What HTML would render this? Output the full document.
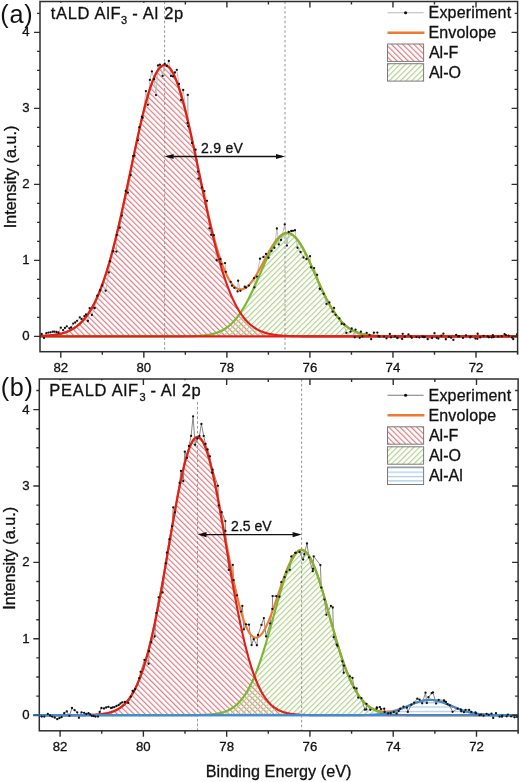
<!DOCTYPE html>
<html><head><meta charset="utf-8"><title>XPS Al 2p</title>
<style>html,body{margin:0;padding:0;background:#fff;width:520px;height:782px;overflow:hidden}svg{display:block}</style>
</head><body>
<svg width="520" height="782" viewBox="0 0 520 782" font-family="'Liberation Sans', Arial, Helvetica, sans-serif" fill="#111"><style>text{stroke:#111;stroke-width:0.3px}</style>
<defs>
<pattern id="hr" patternUnits="userSpaceOnUse" width="3.95" height="3.95" patternTransform="rotate(-45)">
  <line x1="0.6" y1="0" x2="0.6" y2="3.95" stroke="#dc7c82" stroke-width="1.2"/>
</pattern>
<pattern id="hg" patternUnits="userSpaceOnUse" width="3.95" height="3.95" patternTransform="rotate(45)">
  <line x1="0.6" y1="0" x2="0.6" y2="3.95" stroke="#b2d28c" stroke-width="1.2"/>
</pattern>
<pattern id="hb" patternUnits="userSpaceOnUse" width="10" height="4.35">
  <line x1="0" y1="2.4" x2="10" y2="2.4" stroke="#9fc3ea" stroke-width="1.1"/>
</pattern>

<clipPath id="clipa"><rect x="40" y="1.5" width="477.6" height="350.2"/></clipPath>
<clipPath id="clipb"><rect x="39.3" y="379" width="478.8" height="351.8"/></clipPath></defs>
<rect width="100%" height="100%" fill="#fff"/>
<g clip-path="url(#clipa)">
<path d="M40.04,336.04 L40.84,336 L41.63,335.97 L42.43,335.93 L43.23,335.89 L44.03,335.85 L44.82,335.8 L45.62,335.75 L46.42,335.69 L47.21,335.64 L48.01,335.57 L48.81,335.5 L49.61,335.43 L50.4,335.35 L51.2,335.27 L52,335.18 L52.79,335.08 L53.59,334.98 L54.39,334.87 L55.19,334.75 L55.98,334.62 L56.78,334.49 L57.58,334.34 L58.37,334.19 L59.17,334.02 L59.97,333.85 L60.77,333.66 L61.56,333.46 L62.36,333.25 L63.16,333.02 L63.95,332.78 L64.75,332.52 L65.55,332.25 L66.35,331.97 L67.14,331.66 L67.94,331.34 L68.74,331 L69.53,330.63 L70.33,330.25 L71.13,329.85 L71.93,329.42 L72.72,328.97 L73.52,328.49 L74.32,327.99 L75.11,327.46 L75.91,326.9 L76.71,326.31 L77.51,325.69 L78.3,325.04 L79.1,324.36 L79.9,323.65 L80.69,322.89 L81.49,322.1 L82.29,321.28 L83.08,320.41 L83.88,319.51 L84.68,318.56 L85.48,317.57 L86.27,316.54 L87.07,315.46 L87.87,314.33 L88.66,313.15 L89.46,311.93 L90.26,310.66 L91.06,309.33 L91.85,307.95 L92.65,306.52 L93.45,305.03 L94.24,303.48 L95.04,301.88 L95.84,300.22 L96.64,298.5 L97.43,296.72 L98.23,294.88 L99.03,292.98 L99.82,291.01 L100.62,288.98 L101.42,286.89 L102.22,284.73 L103.01,282.51 L103.81,280.22 L104.61,277.87 L105.4,275.45 L106.2,272.96 L107,270.42 L107.8,267.8 L108.59,265.12 L109.39,262.38 L110.19,259.57 L110.98,256.7 L111.78,253.76 L112.58,250.77 L113.38,247.71 L114.17,244.59 L114.97,241.42 L115.77,238.19 L116.56,234.9 L117.36,231.57 L118.16,228.18 L118.96,224.74 L119.75,221.25 L120.55,217.72 L121.35,214.15 L122.14,210.54 L122.94,206.89 L123.74,203.21 L124.54,199.5 L125.33,195.76 L126.13,191.99 L126.93,188.21 L127.72,184.41 L128.52,180.59 L129.32,176.77 L130.12,172.94 L130.91,169.11 L131.71,165.29 L132.51,161.47 L133.3,157.66 L134.1,153.87 L134.9,150.1 L135.7,146.35 L136.49,142.64 L137.29,138.95 L138.09,135.31 L138.88,131.71 L139.68,128.16 L140.48,124.66 L141.28,121.22 L142.07,117.84 L142.87,114.53 L143.67,111.3 L144.46,108.13 L145.26,105.05 L146.06,102.06 L146.86,99.15 L147.65,96.34 L148.45,93.62 L149.25,91.01 L150.04,88.5 L150.84,86.11 L151.64,83.83 L152.44,81.66 L153.23,79.62 L154.03,77.7 L154.83,75.9 L155.62,74.24 L156.42,72.71 L157.22,71.31 L158.02,70.05 L158.81,68.93 L159.61,67.94 L160.41,67.11 L161.2,66.41 L162,65.86 L162.8,65.46 L163.59,65.2 L164.39,65.08 L165.19,65.12 L165.99,65.3 L166.78,65.63 L167.58,66.11 L168.38,66.72 L169.17,67.49 L169.97,68.4 L170.77,69.44 L171.57,70.63 L172.36,71.96 L173.16,73.42 L173.96,75.02 L174.75,76.74 L175.55,78.6 L176.35,80.58 L177.15,82.68 L177.94,84.9 L178.74,87.24 L179.54,89.69 L180.33,92.25 L181.13,94.91 L181.93,97.67 L182.73,100.53 L183.52,103.48 L184.32,106.51 L185.12,109.64 L185.91,112.84 L186.71,116.11 L187.51,119.45 L188.31,122.86 L189.1,126.33 L189.9,129.85 L190.7,133.43 L191.49,137.05 L192.29,140.71 L193.09,144.41 L193.89,148.14 L194.68,151.9 L195.48,155.68 L196.28,159.48 L197.07,163.29 L197.87,167.12 L198.67,170.95 L199.47,174.77 L200.26,178.6 L201.06,182.42 L201.86,186.23 L202.65,190.02 L203.45,193.79 L204.25,197.55 L205.05,201.27 L205.84,204.97 L206.64,208.64 L207.44,212.27 L208.23,215.86 L209.03,219.41 L209.83,222.92 L210.63,226.39 L211.42,229.8 L212.22,233.17 L213.02,236.48 L213.81,239.74 L214.61,242.94 L215.41,246.09 L216.21,249.18 L217,252.21 L217.8,255.17 L218.6,258.08 L219.39,260.92 L220.19,263.7 L220.99,266.41 L221.79,269.06 L222.58,271.64 L223.38,274.16 L224.18,276.61 L224.97,279 L225.77,281.32 L226.57,283.58 L227.37,285.77 L228.16,287.9 L228.96,289.96 L229.76,291.96 L230.55,293.89 L231.35,295.77 L232.15,297.58 L232.95,299.33 L233.74,301.02 L234.54,302.65 L235.34,304.23 L236.13,305.75 L236.93,307.21 L237.73,308.62 L238.53,309.97 L239.32,311.27 L240.12,312.52 L240.92,313.72 L241.71,314.87 L242.51,315.98 L243.31,317.04 L244.1,318.05 L244.9,319.02 L245.7,319.95 L246.5,320.83 L247.29,321.68 L248.09,322.49 L248.89,323.26 L249.68,323.99 L250.48,324.69 L251.28,325.36 L252.08,325.99 L252.87,326.6 L253.67,327.17 L254.47,327.71 L255.26,328.23 L256.06,328.72 L256.86,329.19 L257.66,329.63 L258.45,330.04 L259.25,330.44 L260.05,330.81 L260.84,331.16 L261.64,331.49 L262.44,331.81 L263.24,332.11 L264.03,332.38 L264.83,332.65 L265.63,332.9 L266.42,333.13 L267.22,333.35 L268.02,333.55 L268.82,333.75 L269.61,333.93 L270.41,334.1 L271.21,334.26 L272,334.41 L272.8,334.55 L273.6,334.68 L274.4,334.81 L275.19,334.92 L275.99,335.03 L276.79,335.13 L277.58,335.22 L278.38,335.31 L279.18,335.39 L279.98,335.47 L280.77,335.54 L281.57,335.6 L282.37,335.66 L283.16,335.72 L283.96,335.77 L284.76,335.82 L285.56,335.87 L286.35,335.91 L287.15,335.95 L287.95,335.99 L288.74,336.02 L289.54,336.05 L290.34,336.08 L291.14,336.1 L291.93,336.13 L292.73,336.15 L293.53,336.17 L294.32,336.19 L295.12,336.21 L295.92,336.23 L296.72,336.24 L297.51,336.25 L298.31,336.27 L299.11,336.28 L299.9,336.29 L300.7,336.3 L301.5,336.31 L302.3,336.32 L303.09,336.32 L303.89,336.33 L304.69,336.34 L305.48,336.34 L306.28,336.35 L307.08,336.35 L307.88,336.36 L308.67,336.36 L309.47,336.36 L310.27,336.37 L311.06,336.37 L311.86,336.37 L312.66,336.38 L313.46,336.38 L314.25,336.38 L315.05,336.38 L315.85,336.38 L316.64,336.39 L317.44,336.39 L318.24,336.39 L319.03,336.39 L319.83,336.39 L320.63,336.39 L321.43,336.39 L322.22,336.39 L323.02,336.39 L323.82,336.39 L324.61,336.4 L325.41,336.4 L326.21,336.4 L327.01,336.4 L327.8,336.4 L328.6,336.4 L329.4,336.4 L330.19,336.4 L330.99,336.4 L331.79,336.4 L332.59,336.4 L333.38,336.4 L334.18,336.4 L334.98,336.4 L335.77,336.4 L336.57,336.4 L337.37,336.4 L338.17,336.4 L338.96,336.4 L339.76,336.4 L340.56,336.4 L341.35,336.4 L342.15,336.4 L342.95,336.4 L343.75,336.4 L344.54,336.4 L345.34,336.4 L346.14,336.4 L346.93,336.4 L347.73,336.4 L348.53,336.4 L349.33,336.4 L350.12,336.4 L350.92,336.4 L351.72,336.4 L352.51,336.4 L353.31,336.4 L354.11,336.4 L354.91,336.4 L355.7,336.4 L356.5,336.4 L357.3,336.4 L358.09,336.4 L358.89,336.4 L359.69,336.4 L360.49,336.4 L361.28,336.4 L362.08,336.4 L362.88,336.4 L363.67,336.4 L364.47,336.4 L365.27,336.4 L366.07,336.4 L366.86,336.4 L367.66,336.4 L368.46,336.4 L369.25,336.4 L370.05,336.4 L370.85,336.4 L371.65,336.4 L372.44,336.4 L373.24,336.4 L374.04,336.4 L374.83,336.4 L375.63,336.4 L376.43,336.4 L377.23,336.4 L378.02,336.4 L378.82,336.4 L379.62,336.4 L380.41,336.4 L381.21,336.4 L382.01,336.4 L382.81,336.4 L383.6,336.4 L384.4,336.4 L385.2,336.4 L385.99,336.4 L386.79,336.4 L387.59,336.4 L388.39,336.4 L389.18,336.4 L389.98,336.4 L390.78,336.4 L391.57,336.4 L392.37,336.4 L393.17,336.4 L393.97,336.4 L394.76,336.4 L395.56,336.4 L396.36,336.4 L397.15,336.4 L397.95,336.4 L398.75,336.4 L399.54,336.4 L400.34,336.4 L401.14,336.4 L401.94,336.4 L402.73,336.4 L403.53,336.4 L404.33,336.4 L405.12,336.4 L405.92,336.4 L406.72,336.4 L407.52,336.4 L408.31,336.4 L409.11,336.4 L409.91,336.4 L410.7,336.4 L411.5,336.4 L412.3,336.4 L413.1,336.4 L413.89,336.4 L414.69,336.4 L415.49,336.4 L416.28,336.4 L417.08,336.4 L417.88,336.4 L418.68,336.4 L419.47,336.4 L420.27,336.4 L421.07,336.4 L421.86,336.4 L422.66,336.4 L423.46,336.4 L424.26,336.4 L425.05,336.4 L425.85,336.4 L426.65,336.4 L427.44,336.4 L428.24,336.4 L429.04,336.4 L429.84,336.4 L430.63,336.4 L431.43,336.4 L432.23,336.4 L433.02,336.4 L433.82,336.4 L434.62,336.4 L435.42,336.4 L436.21,336.4 L437.01,336.4 L437.81,336.4 L438.6,336.4 L439.4,336.4 L440.2,336.4 L441,336.4 L441.79,336.4 L442.59,336.4 L443.39,336.4 L444.18,336.4 L444.98,336.4 L445.78,336.4 L446.58,336.4 L447.37,336.4 L448.17,336.4 L448.97,336.4 L449.76,336.4 L450.56,336.4 L451.36,336.4 L452.16,336.4 L452.95,336.4 L453.75,336.4 L454.55,336.4 L455.34,336.4 L456.14,336.4 L456.94,336.4 L457.74,336.4 L458.53,336.4 L459.33,336.4 L460.13,336.4 L460.92,336.4 L461.72,336.4 L462.52,336.4 L463.32,336.4 L464.11,336.4 L464.91,336.4 L465.71,336.4 L466.5,336.4 L467.3,336.4 L468.1,336.4 L468.9,336.4 L469.69,336.4 L470.49,336.4 L471.29,336.4 L472.08,336.4 L472.88,336.4 L473.68,336.4 L474.48,336.4 L475.27,336.4 L476.07,336.4 L476.87,336.4 L477.66,336.4 L478.46,336.4 L479.26,336.4 L480.05,336.4 L480.85,336.4 L481.65,336.4 L482.45,336.4 L483.24,336.4 L484.04,336.4 L484.84,336.4 L485.63,336.4 L486.43,336.4 L487.23,336.4 L488.03,336.4 L488.82,336.4 L489.62,336.4 L490.42,336.4 L491.21,336.4 L492.01,336.4 L492.81,336.4 L493.61,336.4 L494.4,336.4 L495.2,336.4 L496,336.4 L496.79,336.4 L497.59,336.4 L498.39,336.4 L499.19,336.4 L499.98,336.4 L500.78,336.4 L501.58,336.4 L502.37,336.4 L503.17,336.4 L503.97,336.4 L504.77,336.4 L505.56,336.4 L506.36,336.4 L507.16,336.4 L507.95,336.4 L508.75,336.4 L509.55,336.4 L510.35,336.4 L511.14,336.4 L511.94,336.4 L512.74,336.4 L513.53,336.4 L514.33,336.4 L515.13,336.4 L515.93,336.4 L516.72,336.4 L517.52,336.4 L517.52,336.4 L40.04,336.4 Z" fill="url(#hr)"/>
<path d="M40.04,336.4 L40.84,336.4 L41.63,336.4 L42.43,336.4 L43.23,336.4 L44.03,336.4 L44.82,336.4 L45.62,336.4 L46.42,336.4 L47.21,336.4 L48.01,336.4 L48.81,336.4 L49.61,336.4 L50.4,336.4 L51.2,336.4 L52,336.4 L52.79,336.4 L53.59,336.4 L54.39,336.4 L55.19,336.4 L55.98,336.4 L56.78,336.4 L57.58,336.4 L58.37,336.4 L59.17,336.4 L59.97,336.4 L60.77,336.4 L61.56,336.4 L62.36,336.4 L63.16,336.4 L63.95,336.4 L64.75,336.4 L65.55,336.4 L66.35,336.4 L67.14,336.4 L67.94,336.4 L68.74,336.4 L69.53,336.4 L70.33,336.4 L71.13,336.4 L71.93,336.4 L72.72,336.4 L73.52,336.4 L74.32,336.4 L75.11,336.4 L75.91,336.4 L76.71,336.4 L77.51,336.4 L78.3,336.4 L79.1,336.4 L79.9,336.4 L80.69,336.4 L81.49,336.4 L82.29,336.4 L83.08,336.4 L83.88,336.4 L84.68,336.4 L85.48,336.4 L86.27,336.4 L87.07,336.4 L87.87,336.4 L88.66,336.4 L89.46,336.4 L90.26,336.4 L91.06,336.4 L91.85,336.4 L92.65,336.4 L93.45,336.4 L94.24,336.4 L95.04,336.4 L95.84,336.4 L96.64,336.4 L97.43,336.4 L98.23,336.4 L99.03,336.4 L99.82,336.4 L100.62,336.4 L101.42,336.4 L102.22,336.4 L103.01,336.4 L103.81,336.4 L104.61,336.4 L105.4,336.4 L106.2,336.4 L107,336.4 L107.8,336.4 L108.59,336.4 L109.39,336.4 L110.19,336.4 L110.98,336.4 L111.78,336.4 L112.58,336.4 L113.38,336.4 L114.17,336.4 L114.97,336.4 L115.77,336.4 L116.56,336.4 L117.36,336.4 L118.16,336.4 L118.96,336.4 L119.75,336.4 L120.55,336.4 L121.35,336.4 L122.14,336.4 L122.94,336.4 L123.74,336.4 L124.54,336.4 L125.33,336.4 L126.13,336.4 L126.93,336.4 L127.72,336.4 L128.52,336.4 L129.32,336.4 L130.12,336.4 L130.91,336.4 L131.71,336.4 L132.51,336.4 L133.3,336.4 L134.1,336.4 L134.9,336.4 L135.7,336.4 L136.49,336.4 L137.29,336.4 L138.09,336.4 L138.88,336.4 L139.68,336.4 L140.48,336.4 L141.28,336.4 L142.07,336.4 L142.87,336.4 L143.67,336.4 L144.46,336.4 L145.26,336.4 L146.06,336.4 L146.86,336.4 L147.65,336.4 L148.45,336.4 L149.25,336.4 L150.04,336.4 L150.84,336.4 L151.64,336.4 L152.44,336.4 L153.23,336.4 L154.03,336.4 L154.83,336.4 L155.62,336.4 L156.42,336.4 L157.22,336.4 L158.02,336.4 L158.81,336.4 L159.61,336.4 L160.41,336.4 L161.2,336.4 L162,336.4 L162.8,336.4 L163.59,336.4 L164.39,336.4 L165.19,336.4 L165.99,336.39 L166.78,336.39 L167.58,336.39 L168.38,336.39 L169.17,336.39 L169.97,336.39 L170.77,336.39 L171.57,336.39 L172.36,336.38 L173.16,336.38 L173.96,336.38 L174.75,336.38 L175.55,336.38 L176.35,336.37 L177.15,336.37 L177.94,336.37 L178.74,336.36 L179.54,336.36 L180.33,336.35 L181.13,336.34 L181.93,336.34 L182.73,336.33 L183.52,336.32 L184.32,336.31 L185.12,336.3 L185.91,336.29 L186.71,336.28 L187.51,336.27 L188.31,336.25 L189.1,336.24 L189.9,336.22 L190.7,336.2 L191.49,336.18 L192.29,336.15 L193.09,336.13 L193.89,336.1 L194.68,336.07 L195.48,336.03 L196.28,336 L197.07,335.95 L197.87,335.91 L198.67,335.86 L199.47,335.81 L200.26,335.75 L201.06,335.69 L201.86,335.62 L202.65,335.55 L203.45,335.47 L204.25,335.38 L205.05,335.28 L205.84,335.18 L206.64,335.07 L207.44,334.96 L208.23,334.83 L209.03,334.69 L209.83,334.54 L210.63,334.38 L211.42,334.21 L212.22,334.03 L213.02,333.83 L213.81,333.62 L214.61,333.4 L215.41,333.16 L216.21,332.9 L217,332.63 L217.8,332.34 L218.6,332.03 L219.39,331.7 L220.19,331.35 L220.99,330.98 L221.79,330.58 L222.58,330.17 L223.38,329.72 L224.18,329.26 L224.97,328.76 L225.77,328.24 L226.57,327.69 L227.37,327.12 L228.16,326.51 L228.96,325.87 L229.76,325.2 L230.55,324.5 L231.35,323.76 L232.15,322.99 L232.95,322.18 L233.74,321.34 L234.54,320.47 L235.34,319.55 L236.13,318.6 L236.93,317.61 L237.73,316.58 L238.53,315.52 L239.32,314.41 L240.12,313.27 L240.92,312.08 L241.71,310.86 L242.51,309.6 L243.31,308.3 L244.1,306.96 L244.9,305.59 L245.7,304.18 L246.5,302.73 L247.29,301.25 L248.09,299.73 L248.89,298.18 L249.68,296.6 L250.48,294.99 L251.28,293.34 L252.08,291.68 L252.87,289.98 L253.67,288.26 L254.47,286.52 L255.26,284.77 L256.06,282.99 L256.86,281.2 L257.66,279.4 L258.45,277.59 L259.25,275.78 L260.05,273.96 L260.84,272.14 L261.64,270.32 L262.44,268.51 L263.24,266.71 L264.03,264.92 L264.83,263.15 L265.63,261.4 L266.42,259.67 L267.22,257.97 L268.02,256.3 L268.82,254.66 L269.61,253.05 L270.41,251.49 L271.21,249.97 L272,248.5 L272.8,247.08 L273.6,245.72 L274.4,244.41 L275.19,243.16 L275.99,241.97 L276.79,240.85 L277.58,239.8 L278.38,238.82 L279.18,237.91 L279.98,237.08 L280.77,236.33 L281.57,235.65 L282.37,235.06 L283.16,234.55 L283.96,234.12 L284.76,233.78 L285.56,233.53 L286.35,233.36 L287.15,233.28 L287.95,233.28 L288.74,233.37 L289.54,233.55 L290.34,233.82 L291.14,234.17 L291.93,234.61 L292.73,235.13 L293.53,235.73 L294.32,236.42 L295.12,237.18 L295.92,238.02 L296.72,238.94 L297.51,239.93 L298.31,240.99 L299.11,242.12 L299.9,243.31 L300.7,244.57 L301.5,245.88 L302.3,247.26 L303.09,248.68 L303.89,250.16 L304.69,251.68 L305.48,253.25 L306.28,254.86 L307.08,256.5 L307.88,258.18 L308.67,259.88 L309.47,261.62 L310.27,263.37 L311.06,265.14 L311.86,266.93 L312.66,268.74 L313.46,270.55 L314.25,272.36 L315.05,274.18 L315.85,276 L316.64,277.82 L317.44,279.63 L318.24,281.42 L319.03,283.21 L319.83,284.98 L320.63,286.74 L321.43,288.48 L322.22,290.19 L323.02,291.88 L323.82,293.55 L324.61,295.19 L325.41,296.8 L326.21,298.37 L327.01,299.92 L327.8,301.43 L328.6,302.91 L329.4,304.35 L330.19,305.76 L330.99,307.13 L331.79,308.46 L332.59,309.76 L333.38,311.01 L334.18,312.23 L334.98,313.41 L335.77,314.55 L336.57,315.65 L337.37,316.71 L338.17,317.73 L338.96,318.72 L339.76,319.67 L340.56,320.58 L341.35,321.45 L342.15,322.29 L342.95,323.09 L343.75,323.85 L344.54,324.58 L345.34,325.28 L346.14,325.95 L346.93,326.59 L347.73,327.19 L348.53,327.76 L349.33,328.31 L350.12,328.83 L350.92,329.32 L351.72,329.78 L352.51,330.22 L353.31,330.63 L354.11,331.02 L354.91,331.39 L355.7,331.74 L356.5,332.07 L357.3,332.38 L358.09,332.67 L358.89,332.94 L359.69,333.19 L360.49,333.43 L361.28,333.65 L362.08,333.86 L362.88,334.05 L363.67,334.24 L364.47,334.4 L365.27,334.56 L366.07,334.71 L366.86,334.84 L367.66,334.97 L368.46,335.09 L369.25,335.2 L370.05,335.3 L370.85,335.39 L371.65,335.48 L372.44,335.55 L373.24,335.63 L374.04,335.7 L374.83,335.76 L375.63,335.81 L376.43,335.87 L377.23,335.92 L378.02,335.96 L378.82,336 L379.62,336.04 L380.41,336.07 L381.21,336.1 L382.01,336.13 L382.81,336.16 L383.6,336.18 L384.4,336.2 L385.2,336.22 L385.99,336.24 L386.79,336.25 L387.59,336.27 L388.39,336.28 L389.18,336.29 L389.98,336.31 L390.78,336.32 L391.57,336.32 L392.37,336.33 L393.17,336.34 L393.97,336.35 L394.76,336.35 L395.56,336.36 L396.36,336.36 L397.15,336.37 L397.95,336.37 L398.75,336.37 L399.54,336.38 L400.34,336.38 L401.14,336.38 L401.94,336.38 L402.73,336.39 L403.53,336.39 L404.33,336.39 L405.12,336.39 L405.92,336.39 L406.72,336.39 L407.52,336.39 L408.31,336.39 L409.11,336.39 L409.91,336.4 L410.7,336.4 L411.5,336.4 L412.3,336.4 L413.1,336.4 L413.89,336.4 L414.69,336.4 L415.49,336.4 L416.28,336.4 L417.08,336.4 L417.88,336.4 L418.68,336.4 L419.47,336.4 L420.27,336.4 L421.07,336.4 L421.86,336.4 L422.66,336.4 L423.46,336.4 L424.26,336.4 L425.05,336.4 L425.85,336.4 L426.65,336.4 L427.44,336.4 L428.24,336.4 L429.04,336.4 L429.84,336.4 L430.63,336.4 L431.43,336.4 L432.23,336.4 L433.02,336.4 L433.82,336.4 L434.62,336.4 L435.42,336.4 L436.21,336.4 L437.01,336.4 L437.81,336.4 L438.6,336.4 L439.4,336.4 L440.2,336.4 L441,336.4 L441.79,336.4 L442.59,336.4 L443.39,336.4 L444.18,336.4 L444.98,336.4 L445.78,336.4 L446.58,336.4 L447.37,336.4 L448.17,336.4 L448.97,336.4 L449.76,336.4 L450.56,336.4 L451.36,336.4 L452.16,336.4 L452.95,336.4 L453.75,336.4 L454.55,336.4 L455.34,336.4 L456.14,336.4 L456.94,336.4 L457.74,336.4 L458.53,336.4 L459.33,336.4 L460.13,336.4 L460.92,336.4 L461.72,336.4 L462.52,336.4 L463.32,336.4 L464.11,336.4 L464.91,336.4 L465.71,336.4 L466.5,336.4 L467.3,336.4 L468.1,336.4 L468.9,336.4 L469.69,336.4 L470.49,336.4 L471.29,336.4 L472.08,336.4 L472.88,336.4 L473.68,336.4 L474.48,336.4 L475.27,336.4 L476.07,336.4 L476.87,336.4 L477.66,336.4 L478.46,336.4 L479.26,336.4 L480.05,336.4 L480.85,336.4 L481.65,336.4 L482.45,336.4 L483.24,336.4 L484.04,336.4 L484.84,336.4 L485.63,336.4 L486.43,336.4 L487.23,336.4 L488.03,336.4 L488.82,336.4 L489.62,336.4 L490.42,336.4 L491.21,336.4 L492.01,336.4 L492.81,336.4 L493.61,336.4 L494.4,336.4 L495.2,336.4 L496,336.4 L496.79,336.4 L497.59,336.4 L498.39,336.4 L499.19,336.4 L499.98,336.4 L500.78,336.4 L501.58,336.4 L502.37,336.4 L503.17,336.4 L503.97,336.4 L504.77,336.4 L505.56,336.4 L506.36,336.4 L507.16,336.4 L507.95,336.4 L508.75,336.4 L509.55,336.4 L510.35,336.4 L511.14,336.4 L511.94,336.4 L512.74,336.4 L513.53,336.4 L514.33,336.4 L515.13,336.4 L515.93,336.4 L516.72,336.4 L517.52,336.4 L517.52,336.4 L40.04,336.4 Z" fill="url(#hg)"/>
<line x1="164.6" y1="1.5" x2="164.6" y2="351.7" stroke="#909090" stroke-width="0.95" stroke-dasharray="2.6 2.2"/>
<line x1="285.01" y1="1.5" x2="285.01" y2="351.7" stroke="#909090" stroke-width="0.95" stroke-dasharray="2.6 2.2"/>
<polyline points="39.08,336.03 41.7,334 44,338.1 46.3,333.2 48.4,332.6 50.4,332.3 52.7,331.7 54.4,331.7 56.5,332 58.5,332.5 60.8,327.7 63.1,330.2 64.9,328 66.8,326.3 69.4,328.3 71.1,327.5 73.2,323.6 75.2,322.5 77.1,320.8 79.8,317.3 81.5,319 84.4,316.1 86,314.5 87.9,321 89.6,308.1 91.9,315 94.46,308.07 94.59,308.01 97.29,295.66 100.07,290.23 102.28,285.4 105.67,290.66 108.81,272.41 109.96,261.24 113.25,251.2 116.41,251.69 116.76,235.03 119.82,227.74 121.84,215.62 125.73,191.01 127.89,192.66 130.72,175.07 133.1,156.04 134.51,155.62 137.98,140.29 139.33,127.22 141.84,116.86 142.65,117.83 145.9,91.1 147.9,104.8 149.9,79.9 151.9,71.4 154.2,79.2 156,95.1 158,65.5 159.9,64.7 162.6,75.9 164.7,63.7 166.8,66 168.8,61 171,75.9 173,76.3 175,72.5 176.8,69.8 179,84 181.1,100 183.2,90 187.55,122.97 187.77,94.9 188.18,126.28 191.96,142.9 195.66,149.68 197.92,171.6 198.35,178.6 201.81,187.4 204.41,191.1 207,200.78 209.4,228.3 211.13,234.81 213.87,235.19 216.7,260.23 220.45,258.98 221.39,264.11 225.07,263.03 225.79,271.81 230.64,281.84 232,285.7 234.36,287.82 237.62,291.41 238.16,280.76 240.37,290.83 244.78,286.75 246.04,287.53 248.92,285.62 254.03,278.18 254.4,287.44 256.84,276.53 260,258.75 263.5,257 266,254 268.5,257.75 271.5,251 274.4,247.75 276.9,228.5 278.75,244.4 281,240 284.75,224.4 286.9,245.6 288.75,231.9 291.25,231 293,230.8 295,230.25 297.5,247.75 300.5,252 303.5,257.5 306.5,259 310,256.25 311.03,267.43 314.13,268.09 317.14,274.85 319.69,288.57 319.95,289.12 323.53,293.83 326.46,303.89 329.36,302.51 332.62,311.69 334.07,307.94 335.62,314.78 339.38,318.4 341.7,323.74 344.19,324.47 346.35,332.94 350.54,331.71 351.67,328.49 354.78,337.31 355.54,329.59 359.68,337.81 360.83,331.64 362.38,336.49 366.7,332.79 369.48,334.82 371.18,339.14 373.86,332.75 377.34,332.55 378.38,336.15 379.33,336.71 384.08,336.53 386.52,338.34 389.85,333.96 390.98,337.46 395.03,336.45 397.38,338 397.5,337.65 402.17,338.98 402.68,333.84 404.73,336.7 408.48,334.45 410.68,336.37 411.77,337.78 416.41,337.05 419.29,337.51 422.54,336.38 423.64,337.14 424.7,336.99 427.71,339.13 432.1,338 434.5,333.13 436.64,337.73 438.34,338.49 441.33,335.73 443.4,333.62 445.81,339.27 448.89,336.81 451.13,337.65 453.37,339.88 456.15,334.95 458.06,336.45 459.19,336.26 462.95,337.89 465.98,335.5 470.21,337.47 470.63,336.68 475.45,338.59 477.4,338.8 477.64,333.76 480.28,337.4 483.62,335.82 487.67,336.47 488.83,337.27 491.62,337.4 492.8,335.15 493.68,337 498.2,336.7 501.69,336.36 504.57,334.08 505.95,335.06 508.56,335.64 512.02,337.51 513.25,339.13 517.01,334.52" fill="none" stroke="#b8b8b8" stroke-width="0.9"/>
<path d="M40.04,336.04 L40.84,336 L41.63,335.97 L42.43,335.93 L43.23,335.89 L44.03,335.85 L44.82,335.8 L45.62,335.75 L46.42,335.69 L47.21,335.64 L48.01,335.57 L48.81,335.5 L49.61,335.43 L50.4,335.35 L51.2,335.27 L52,335.18 L52.79,335.08 L53.59,334.98 L54.39,334.87 L55.19,334.75 L55.98,334.62 L56.78,334.49 L57.58,334.34 L58.37,334.19 L59.17,334.02 L59.97,333.85 L60.77,333.66 L61.56,333.46 L62.36,333.25 L63.16,333.02 L63.95,332.78 L64.75,332.52 L65.55,332.25 L66.35,331.97 L67.14,331.66 L67.94,331.34 L68.74,331 L69.53,330.63 L70.33,330.25 L71.13,329.85 L71.93,329.42 L72.72,328.97 L73.52,328.49 L74.32,327.99 L75.11,327.46 L75.91,326.9 L76.71,326.31 L77.51,325.69 L78.3,325.04 L79.1,324.36 L79.9,323.65 L80.69,322.89 L81.49,322.1 L82.29,321.28 L83.08,320.41 L83.88,319.51 L84.68,318.56 L85.48,317.57 L86.27,316.54 L87.07,315.46 L87.87,314.33 L88.66,313.15 L89.46,311.93 L90.26,310.66 L91.06,309.33 L91.85,307.95 L92.65,306.52 L93.45,305.03 L94.24,303.48 L95.04,301.88 L95.84,300.22 L96.64,298.5 L97.43,296.72 L98.23,294.88 L99.03,292.98 L99.82,291.01 L100.62,288.98 L101.42,286.89 L102.22,284.73 L103.01,282.51 L103.81,280.22 L104.61,277.87 L105.4,275.45 L106.2,272.96 L107,270.42 L107.8,267.8 L108.59,265.12 L109.39,262.38 L110.19,259.57 L110.98,256.7 L111.78,253.76 L112.58,250.77 L113.38,247.71 L114.17,244.59 L114.97,241.42 L115.77,238.19 L116.56,234.9 L117.36,231.57 L118.16,228.18 L118.96,224.74 L119.75,221.25 L120.55,217.72 L121.35,214.15 L122.14,210.54 L122.94,206.89 L123.74,203.21 L124.54,199.5 L125.33,195.76 L126.13,191.99 L126.93,188.21 L127.72,184.41 L128.52,180.59 L129.32,176.77 L130.12,172.94 L130.91,169.11 L131.71,165.29 L132.51,161.47 L133.3,157.66 L134.1,153.87 L134.9,150.1 L135.7,146.35 L136.49,142.64 L137.29,138.95 L138.09,135.31 L138.88,131.71 L139.68,128.16 L140.48,124.66 L141.28,121.22 L142.07,117.84 L142.87,114.53 L143.67,111.3 L144.46,108.13 L145.26,105.05 L146.06,102.06 L146.86,99.15 L147.65,96.34 L148.45,93.62 L149.25,91.01 L150.04,88.5 L150.84,86.11 L151.64,83.83 L152.44,81.66 L153.23,79.62 L154.03,77.7 L154.83,75.9 L155.62,74.24 L156.42,72.7 L157.22,71.31 L158.02,70.05 L158.81,68.92 L159.61,67.94 L160.41,67.1 L161.2,66.41 L162,65.86 L162.8,65.45 L163.59,65.19 L164.39,65.08 L165.19,65.12 L165.99,65.3 L166.78,65.62 L167.58,66.1 L168.38,66.72 L169.17,67.48 L169.97,68.39 L170.77,69.43 L171.57,70.62 L172.36,71.94 L173.16,73.4 L173.96,75 L174.75,76.72 L175.55,78.57 L176.35,80.55 L177.15,82.65 L177.94,84.87 L178.74,87.2 L179.54,89.65 L180.33,92.2 L181.13,94.85 L181.93,97.61 L182.73,100.46 L183.52,103.4 L184.32,106.43 L185.12,109.54 L185.91,112.73 L186.71,115.99 L187.51,119.32 L188.31,122.71 L189.1,126.16 L189.9,129.67 L190.7,133.23 L191.49,136.83 L192.29,140.46 L193.09,144.14 L193.89,147.84 L194.68,151.57 L195.48,155.31 L196.28,159.08 L197.07,162.85 L197.87,166.63 L198.67,170.41 L199.47,174.18 L200.26,177.95 L201.06,181.71 L201.86,185.45 L202.65,189.17 L203.45,192.86 L204.25,196.53 L205.05,200.16 L205.84,203.76 L206.64,207.31 L207.44,210.82 L208.23,214.29 L209.03,217.7 L209.83,221.07 L210.63,224.37 L211.42,227.62 L212.22,230.8 L213.02,233.92 L213.81,236.97 L214.61,239.94 L215.41,242.85 L216.21,245.68 L217,248.44 L217.8,251.11 L218.6,253.71 L219.39,256.22 L220.19,258.65 L220.99,260.99 L221.79,263.24 L222.58,265.41 L223.38,267.48 L224.18,269.47 L224.97,271.36 L225.77,273.16 L226.57,274.87 L227.37,276.49 L228.16,278 L228.96,279.43 L229.76,280.76 L230.55,281.99 L231.35,283.13 L232.15,284.17 L232.95,285.11 L233.74,285.96 L234.54,286.72 L235.34,287.38 L236.13,287.95 L236.93,288.42 L237.73,288.8 L238.53,289.08 L239.32,289.28 L240.12,289.39 L240.92,289.4 L241.71,289.33 L242.51,289.18 L243.31,288.94 L244.1,288.61 L244.9,288.21 L245.7,287.72 L246.5,287.16 L247.29,286.53 L248.09,285.82 L248.89,285.04 L249.68,284.19 L250.48,283.28 L251.28,282.3 L252.08,281.27 L252.87,280.18 L253.67,279.03 L254.47,277.84 L255.26,276.6 L256.06,275.31 L256.86,273.99 L257.66,272.63 L258.45,271.23 L259.25,269.81 L260.05,268.37 L260.84,266.9 L261.64,265.42 L262.44,263.92 L263.24,262.42 L264.03,260.91 L264.83,259.4 L265.63,257.9 L266.42,256.4 L267.22,254.92 L268.02,253.45 L268.82,252 L269.61,250.58 L270.41,249.19 L271.21,247.84 L272,246.52 L272.8,245.24 L273.6,244 L274.4,242.82 L275.19,241.68 L275.99,240.6 L276.79,239.58 L277.58,238.62 L278.38,237.73 L279.18,236.91 L279.98,236.15 L280.77,235.47 L281.57,234.86 L282.37,234.33 L283.16,233.87 L283.96,233.5 L284.76,233.21 L285.56,233 L286.35,232.87 L287.15,232.83 L287.95,232.87 L288.74,232.99 L289.54,233.2 L290.34,233.5 L291.14,233.88 L291.93,234.34 L292.73,234.88 L293.53,235.51 L294.32,236.21 L295.12,236.99 L295.92,237.85 L296.72,238.78 L297.51,239.78 L298.31,240.86 L299.11,242 L299.9,243.2 L300.7,244.47 L301.5,245.79 L302.3,247.17 L303.09,248.61 L303.89,250.09 L304.69,251.62 L305.48,253.19 L306.28,254.8 L307.08,256.45 L307.88,258.13 L308.67,259.84 L309.47,261.58 L310.27,263.34 L311.06,265.11 L311.86,266.91 L312.66,268.71 L313.46,270.53 L314.25,272.34 L315.05,274.17 L315.85,275.99 L316.64,277.8 L317.44,279.61 L318.24,281.41 L319.03,283.2 L319.83,284.98 L320.63,286.73 L321.43,288.47 L322.22,290.18 L323.02,291.88 L323.82,293.54 L324.61,295.18 L325.41,296.79 L326.21,298.37 L327.01,299.92 L327.8,301.43 L328.6,302.91 L329.4,304.35 L330.19,305.76 L330.99,307.13 L331.79,308.46 L332.59,309.76 L333.38,311.01 L334.18,312.23 L334.98,313.41 L335.77,314.55 L336.57,315.65 L337.37,316.71 L338.17,317.73 L338.96,318.72 L339.76,319.67 L340.56,320.57 L341.35,321.45 L342.15,322.28 L342.95,323.09 L343.75,323.85 L344.54,324.58 L345.34,325.28 L346.14,325.95 L346.93,326.58 L347.73,327.19 L348.53,327.76 L349.33,328.31 L350.12,328.83 L350.92,329.32 L351.72,329.78 L352.51,330.22 L353.31,330.63 L354.11,331.02 L354.91,331.39 L355.7,331.74 L356.5,332.07 L357.3,332.38 L358.09,332.67 L358.89,332.94 L359.69,333.19 L360.49,333.43 L361.28,333.65 L362.08,333.86 L362.88,334.05 L363.67,334.24 L364.47,334.4 L365.27,334.56 L366.07,334.71 L366.86,334.84 L367.66,334.97 L368.46,335.09 L369.25,335.2 L370.05,335.3 L370.85,335.39 L371.65,335.48 L372.44,335.55 L373.24,335.63 L374.04,335.7 L374.83,335.76 L375.63,335.81 L376.43,335.87 L377.23,335.92 L378.02,335.96 L378.82,336 L379.62,336.04 L380.41,336.07 L381.21,336.1 L382.01,336.13 L382.81,336.16 L383.6,336.18 L384.4,336.2 L385.2,336.22 L385.99,336.24 L386.79,336.25 L387.59,336.27 L388.39,336.28 L389.18,336.29 L389.98,336.31 L390.78,336.32 L391.57,336.32 L392.37,336.33 L393.17,336.34 L393.97,336.35 L394.76,336.35 L395.56,336.36 L396.36,336.36 L397.15,336.37 L397.95,336.37 L398.75,336.37 L399.54,336.38 L400.34,336.38 L401.14,336.38 L401.94,336.38 L402.73,336.39 L403.53,336.39 L404.33,336.39 L405.12,336.39 L405.92,336.39 L406.72,336.39 L407.52,336.39 L408.31,336.39 L409.11,336.39 L409.91,336.4 L410.7,336.4 L411.5,336.4 L412.3,336.4 L413.1,336.4 L413.89,336.4 L414.69,336.4 L415.49,336.4 L416.28,336.4 L417.08,336.4 L417.88,336.4 L418.68,336.4 L419.47,336.4 L420.27,336.4 L421.07,336.4 L421.86,336.4 L422.66,336.4 L423.46,336.4 L424.26,336.4 L425.05,336.4 L425.85,336.4 L426.65,336.4 L427.44,336.4 L428.24,336.4 L429.04,336.4 L429.84,336.4 L430.63,336.4 L431.43,336.4 L432.23,336.4 L433.02,336.4 L433.82,336.4 L434.62,336.4 L435.42,336.4 L436.21,336.4 L437.01,336.4 L437.81,336.4 L438.6,336.4 L439.4,336.4 L440.2,336.4 L441,336.4 L441.79,336.4 L442.59,336.4 L443.39,336.4 L444.18,336.4 L444.98,336.4 L445.78,336.4 L446.58,336.4 L447.37,336.4 L448.17,336.4 L448.97,336.4 L449.76,336.4 L450.56,336.4 L451.36,336.4 L452.16,336.4 L452.95,336.4 L453.75,336.4 L454.55,336.4 L455.34,336.4 L456.14,336.4 L456.94,336.4 L457.74,336.4 L458.53,336.4 L459.33,336.4 L460.13,336.4 L460.92,336.4 L461.72,336.4 L462.52,336.4 L463.32,336.4 L464.11,336.4 L464.91,336.4 L465.71,336.4 L466.5,336.4 L467.3,336.4 L468.1,336.4 L468.9,336.4 L469.69,336.4 L470.49,336.4 L471.29,336.4 L472.08,336.4 L472.88,336.4 L473.68,336.4 L474.48,336.4 L475.27,336.4 L476.07,336.4 L476.87,336.4 L477.66,336.4 L478.46,336.4 L479.26,336.4 L480.05,336.4 L480.85,336.4 L481.65,336.4 L482.45,336.4 L483.24,336.4 L484.04,336.4 L484.84,336.4 L485.63,336.4 L486.43,336.4 L487.23,336.4 L488.03,336.4 L488.82,336.4 L489.62,336.4 L490.42,336.4 L491.21,336.4 L492.01,336.4 L492.81,336.4 L493.61,336.4 L494.4,336.4 L495.2,336.4 L496,336.4 L496.79,336.4 L497.59,336.4 L498.39,336.4 L499.19,336.4 L499.98,336.4 L500.78,336.4 L501.58,336.4 L502.37,336.4 L503.17,336.4 L503.97,336.4 L504.77,336.4 L505.56,336.4 L506.36,336.4 L507.16,336.4 L507.95,336.4 L508.75,336.4 L509.55,336.4 L510.35,336.4 L511.14,336.4 L511.94,336.4 L512.74,336.4 L513.53,336.4 L514.33,336.4 L515.13,336.4 L515.93,336.4 L516.72,336.4 L517.52,336.4" fill="none" stroke="#f07a30" stroke-width="2.15"/>
<path d="M40.04,336.4 L40.84,336.4 L41.63,336.4 L42.43,336.4 L43.23,336.4 L44.03,336.4 L44.82,336.4 L45.62,336.4 L46.42,336.4 L47.21,336.4 L48.01,336.4 L48.81,336.4 L49.61,336.4 L50.4,336.4 L51.2,336.4 L52,336.4 L52.79,336.4 L53.59,336.4 L54.39,336.4 L55.19,336.4 L55.98,336.4 L56.78,336.4 L57.58,336.4 L58.37,336.4 L59.17,336.4 L59.97,336.4 L60.77,336.4 L61.56,336.4 L62.36,336.4 L63.16,336.4 L63.95,336.4 L64.75,336.4 L65.55,336.4 L66.35,336.4 L67.14,336.4 L67.94,336.4 L68.74,336.4 L69.53,336.4 L70.33,336.4 L71.13,336.4 L71.93,336.4 L72.72,336.4 L73.52,336.4 L74.32,336.4 L75.11,336.4 L75.91,336.4 L76.71,336.4 L77.51,336.4 L78.3,336.4 L79.1,336.4 L79.9,336.4 L80.69,336.4 L81.49,336.4 L82.29,336.4 L83.08,336.4 L83.88,336.4 L84.68,336.4 L85.48,336.4 L86.27,336.4 L87.07,336.4 L87.87,336.4 L88.66,336.4 L89.46,336.4 L90.26,336.4 L91.06,336.4 L91.85,336.4 L92.65,336.4 L93.45,336.4 L94.24,336.4 L95.04,336.4 L95.84,336.4 L96.64,336.4 L97.43,336.4 L98.23,336.4 L99.03,336.4 L99.82,336.4 L100.62,336.4 L101.42,336.4 L102.22,336.4 L103.01,336.4 L103.81,336.4 L104.61,336.4 L105.4,336.4 L106.2,336.4 L107,336.4 L107.8,336.4 L108.59,336.4 L109.39,336.4 L110.19,336.4 L110.98,336.4 L111.78,336.4 L112.58,336.4 L113.38,336.4 L114.17,336.4 L114.97,336.4 L115.77,336.4 L116.56,336.4 L117.36,336.4 L118.16,336.4 L118.96,336.4 L119.75,336.4 L120.55,336.4 L121.35,336.4 L122.14,336.4 L122.94,336.4 L123.74,336.4 L124.54,336.4 L125.33,336.4 L126.13,336.4 L126.93,336.4 L127.72,336.4 L128.52,336.4 L129.32,336.4 L130.12,336.4 L130.91,336.4 L131.71,336.4 L132.51,336.4 L133.3,336.4 L134.1,336.4 L134.9,336.4 L135.7,336.4 L136.49,336.4 L137.29,336.4 L138.09,336.4 L138.88,336.4 L139.68,336.4 L140.48,336.4 L141.28,336.4 L142.07,336.4 L142.87,336.4 L143.67,336.4 L144.46,336.4 L145.26,336.4 L146.06,336.4 L146.86,336.4 L147.65,336.4 L148.45,336.4 L149.25,336.4 L150.04,336.4 L150.84,336.4 L151.64,336.4 L152.44,336.4 L153.23,336.4 L154.03,336.4 L154.83,336.4 L155.62,336.4 L156.42,336.4 L157.22,336.4 L158.02,336.4 L158.81,336.4 L159.61,336.4 L160.41,336.4 L161.2,336.4 L162,336.4 L162.8,336.4 L163.59,336.4 L164.39,336.4 L165.19,336.4 L165.99,336.39 L166.78,336.39 L167.58,336.39 L168.38,336.39 L169.17,336.39 L169.97,336.39 L170.77,336.39 L171.57,336.39 L172.36,336.38 L173.16,336.38 L173.96,336.38 L174.75,336.38 L175.55,336.38 L176.35,336.37 L177.15,336.37 L177.94,336.37 L178.74,336.36 L179.54,336.36 L180.33,336.35 L181.13,336.34 L181.93,336.34 L182.73,336.33 L183.52,336.32 L184.32,336.31 L185.12,336.3 L185.91,336.29 L186.71,336.28 L187.51,336.27 L188.31,336.25 L189.1,336.24 L189.9,336.22 L190.7,336.2 L191.49,336.18 L192.29,336.15 L193.09,336.13 L193.89,336.1 L194.68,336.07 L195.48,336.03 L196.28,336 L197.07,335.95 L197.87,335.91 L198.67,335.86 L199.47,335.81 L200.26,335.75 L201.06,335.69 L201.86,335.62 L202.65,335.55 L203.45,335.47 L204.25,335.38 L205.05,335.28 L205.84,335.18 L206.64,335.07 L207.44,334.96 L208.23,334.83 L209.03,334.69 L209.83,334.54 L210.63,334.38 L211.42,334.21 L212.22,334.03 L213.02,333.83 L213.81,333.62 L214.61,333.4 L215.41,333.16 L216.21,332.9 L217,332.63 L217.8,332.34 L218.6,332.03 L219.39,331.7 L220.19,331.35 L220.99,330.98 L221.79,330.58 L222.58,330.17 L223.38,329.72 L224.18,329.26 L224.97,328.76 L225.77,328.24 L226.57,327.69 L227.37,327.12 L228.16,326.51 L228.96,325.87 L229.76,325.2 L230.55,324.5 L231.35,323.76 L232.15,322.99 L232.95,322.18 L233.74,321.34 L234.54,320.47 L235.34,319.55 L236.13,318.6 L236.93,317.61 L237.73,316.58 L238.53,315.52 L239.32,314.41 L240.12,313.27 L240.92,312.08 L241.71,310.86 L242.51,309.6 L243.31,308.3 L244.1,306.96 L244.9,305.59 L245.7,304.18 L246.5,302.73 L247.29,301.25 L248.09,299.73 L248.89,298.18 L249.68,296.6 L250.48,294.99 L251.28,293.34 L252.08,291.68 L252.87,289.98 L253.67,288.26 L254.47,286.52 L255.26,284.77 L256.06,282.99 L256.86,281.2 L257.66,279.4 L258.45,277.59 L259.25,275.78 L260.05,273.96 L260.84,272.14 L261.64,270.32 L262.44,268.51 L263.24,266.71 L264.03,264.92 L264.83,263.15 L265.63,261.4 L266.42,259.67 L267.22,257.97 L268.02,256.3 L268.82,254.66 L269.61,253.05 L270.41,251.49 L271.21,249.97 L272,248.5 L272.8,247.08 L273.6,245.72 L274.4,244.41 L275.19,243.16 L275.99,241.97 L276.79,240.85 L277.58,239.8 L278.38,238.82 L279.18,237.91 L279.98,237.08 L280.77,236.33 L281.57,235.65 L282.37,235.06 L283.16,234.55 L283.96,234.12 L284.76,233.78 L285.56,233.53 L286.35,233.36 L287.15,233.28 L287.95,233.28 L288.74,233.37 L289.54,233.55 L290.34,233.82 L291.14,234.17 L291.93,234.61 L292.73,235.13 L293.53,235.73 L294.32,236.42 L295.12,237.18 L295.92,238.02 L296.72,238.94 L297.51,239.93 L298.31,240.99 L299.11,242.12 L299.9,243.31 L300.7,244.57 L301.5,245.88 L302.3,247.26 L303.09,248.68 L303.89,250.16 L304.69,251.68 L305.48,253.25 L306.28,254.86 L307.08,256.5 L307.88,258.18 L308.67,259.88 L309.47,261.62 L310.27,263.37 L311.06,265.14 L311.86,266.93 L312.66,268.74 L313.46,270.55 L314.25,272.36 L315.05,274.18 L315.85,276 L316.64,277.82 L317.44,279.63 L318.24,281.42 L319.03,283.21 L319.83,284.98 L320.63,286.74 L321.43,288.48 L322.22,290.19 L323.02,291.88 L323.82,293.55 L324.61,295.19 L325.41,296.8 L326.21,298.37 L327.01,299.92 L327.8,301.43 L328.6,302.91 L329.4,304.35 L330.19,305.76 L330.99,307.13 L331.79,308.46 L332.59,309.76 L333.38,311.01 L334.18,312.23 L334.98,313.41 L335.77,314.55 L336.57,315.65 L337.37,316.71 L338.17,317.73 L338.96,318.72 L339.76,319.67 L340.56,320.58 L341.35,321.45 L342.15,322.29 L342.95,323.09 L343.75,323.85 L344.54,324.58 L345.34,325.28 L346.14,325.95 L346.93,326.59 L347.73,327.19 L348.53,327.76 L349.33,328.31 L350.12,328.83 L350.92,329.32 L351.72,329.78 L352.51,330.22 L353.31,330.63 L354.11,331.02 L354.91,331.39 L355.7,331.74 L356.5,332.07 L357.3,332.38 L358.09,332.67 L358.89,332.94 L359.69,333.19 L360.49,333.43 L361.28,333.65 L362.08,333.86 L362.88,334.05 L363.67,334.24 L364.47,334.4 L365.27,334.56 L366.07,334.71 L366.86,334.84 L367.66,334.97 L368.46,335.09 L369.25,335.2 L370.05,335.3 L370.85,335.39 L371.65,335.48 L372.44,335.55 L373.24,335.63 L374.04,335.7 L374.83,335.76 L375.63,335.81 L376.43,335.87 L377.23,335.92 L378.02,335.96 L378.82,336 L379.62,336.04 L380.41,336.07 L381.21,336.1 L382.01,336.13 L382.81,336.16 L383.6,336.18 L384.4,336.2 L385.2,336.22 L385.99,336.24 L386.79,336.25 L387.59,336.27 L388.39,336.28 L389.18,336.29 L389.98,336.31 L390.78,336.32 L391.57,336.32 L392.37,336.33 L393.17,336.34 L393.97,336.35 L394.76,336.35 L395.56,336.36 L396.36,336.36 L397.15,336.37 L397.95,336.37 L398.75,336.37 L399.54,336.38 L400.34,336.38 L401.14,336.38 L401.94,336.38 L402.73,336.39 L403.53,336.39 L404.33,336.39 L405.12,336.39 L405.92,336.39 L406.72,336.39 L407.52,336.39 L408.31,336.39 L409.11,336.39 L409.91,336.4 L410.7,336.4 L411.5,336.4 L412.3,336.4 L413.1,336.4 L413.89,336.4 L414.69,336.4 L415.49,336.4 L416.28,336.4 L417.08,336.4 L417.88,336.4 L418.68,336.4 L419.47,336.4 L420.27,336.4 L421.07,336.4 L421.86,336.4 L422.66,336.4 L423.46,336.4 L424.26,336.4 L425.05,336.4 L425.85,336.4 L426.65,336.4 L427.44,336.4 L428.24,336.4 L429.04,336.4 L429.84,336.4 L430.63,336.4 L431.43,336.4 L432.23,336.4 L433.02,336.4 L433.82,336.4 L434.62,336.4 L435.42,336.4 L436.21,336.4 L437.01,336.4 L437.81,336.4 L438.6,336.4 L439.4,336.4 L440.2,336.4 L441,336.4 L441.79,336.4 L442.59,336.4 L443.39,336.4 L444.18,336.4 L444.98,336.4 L445.78,336.4 L446.58,336.4 L447.37,336.4 L448.17,336.4 L448.97,336.4 L449.76,336.4 L450.56,336.4 L451.36,336.4 L452.16,336.4 L452.95,336.4 L453.75,336.4 L454.55,336.4 L455.34,336.4 L456.14,336.4 L456.94,336.4 L457.74,336.4 L458.53,336.4 L459.33,336.4 L460.13,336.4 L460.92,336.4 L461.72,336.4 L462.52,336.4 L463.32,336.4 L464.11,336.4 L464.91,336.4 L465.71,336.4 L466.5,336.4 L467.3,336.4 L468.1,336.4 L468.9,336.4 L469.69,336.4 L470.49,336.4 L471.29,336.4 L472.08,336.4 L472.88,336.4 L473.68,336.4 L474.48,336.4 L475.27,336.4 L476.07,336.4 L476.87,336.4 L477.66,336.4 L478.46,336.4 L479.26,336.4 L480.05,336.4 L480.85,336.4 L481.65,336.4 L482.45,336.4 L483.24,336.4 L484.04,336.4 L484.84,336.4 L485.63,336.4 L486.43,336.4 L487.23,336.4 L488.03,336.4 L488.82,336.4 L489.62,336.4 L490.42,336.4 L491.21,336.4 L492.01,336.4 L492.81,336.4 L493.61,336.4 L494.4,336.4 L495.2,336.4 L496,336.4 L496.79,336.4 L497.59,336.4 L498.39,336.4 L499.19,336.4 L499.98,336.4 L500.78,336.4 L501.58,336.4 L502.37,336.4 L503.17,336.4 L503.97,336.4 L504.77,336.4 L505.56,336.4 L506.36,336.4 L507.16,336.4 L507.95,336.4 L508.75,336.4 L509.55,336.4 L510.35,336.4 L511.14,336.4 L511.94,336.4 L512.74,336.4 L513.53,336.4 L514.33,336.4 L515.13,336.4 L515.93,336.4 L516.72,336.4 L517.52,336.4" fill="none" stroke="#78b832" stroke-width="2.15"/>
<path d="M40.04,336.04 L40.84,336 L41.63,335.97 L42.43,335.93 L43.23,335.89 L44.03,335.85 L44.82,335.8 L45.62,335.75 L46.42,335.69 L47.21,335.64 L48.01,335.57 L48.81,335.5 L49.61,335.43 L50.4,335.35 L51.2,335.27 L52,335.18 L52.79,335.08 L53.59,334.98 L54.39,334.87 L55.19,334.75 L55.98,334.62 L56.78,334.49 L57.58,334.34 L58.37,334.19 L59.17,334.02 L59.97,333.85 L60.77,333.66 L61.56,333.46 L62.36,333.25 L63.16,333.02 L63.95,332.78 L64.75,332.52 L65.55,332.25 L66.35,331.97 L67.14,331.66 L67.94,331.34 L68.74,331 L69.53,330.63 L70.33,330.25 L71.13,329.85 L71.93,329.42 L72.72,328.97 L73.52,328.49 L74.32,327.99 L75.11,327.46 L75.91,326.9 L76.71,326.31 L77.51,325.69 L78.3,325.04 L79.1,324.36 L79.9,323.65 L80.69,322.89 L81.49,322.1 L82.29,321.28 L83.08,320.41 L83.88,319.51 L84.68,318.56 L85.48,317.57 L86.27,316.54 L87.07,315.46 L87.87,314.33 L88.66,313.15 L89.46,311.93 L90.26,310.66 L91.06,309.33 L91.85,307.95 L92.65,306.52 L93.45,305.03 L94.24,303.48 L95.04,301.88 L95.84,300.22 L96.64,298.5 L97.43,296.72 L98.23,294.88 L99.03,292.98 L99.82,291.01 L100.62,288.98 L101.42,286.89 L102.22,284.73 L103.01,282.51 L103.81,280.22 L104.61,277.87 L105.4,275.45 L106.2,272.96 L107,270.42 L107.8,267.8 L108.59,265.12 L109.39,262.38 L110.19,259.57 L110.98,256.7 L111.78,253.76 L112.58,250.77 L113.38,247.71 L114.17,244.59 L114.97,241.42 L115.77,238.19 L116.56,234.9 L117.36,231.57 L118.16,228.18 L118.96,224.74 L119.75,221.25 L120.55,217.72 L121.35,214.15 L122.14,210.54 L122.94,206.89 L123.74,203.21 L124.54,199.5 L125.33,195.76 L126.13,191.99 L126.93,188.21 L127.72,184.41 L128.52,180.59 L129.32,176.77 L130.12,172.94 L130.91,169.11 L131.71,165.29 L132.51,161.47 L133.3,157.66 L134.1,153.87 L134.9,150.1 L135.7,146.35 L136.49,142.64 L137.29,138.95 L138.09,135.31 L138.88,131.71 L139.68,128.16 L140.48,124.66 L141.28,121.22 L142.07,117.84 L142.87,114.53 L143.67,111.3 L144.46,108.13 L145.26,105.05 L146.06,102.06 L146.86,99.15 L147.65,96.34 L148.45,93.62 L149.25,91.01 L150.04,88.5 L150.84,86.11 L151.64,83.83 L152.44,81.66 L153.23,79.62 L154.03,77.7 L154.83,75.9 L155.62,74.24 L156.42,72.71 L157.22,71.31 L158.02,70.05 L158.81,68.93 L159.61,67.94 L160.41,67.11 L161.2,66.41 L162,65.86 L162.8,65.46 L163.59,65.2 L164.39,65.08 L165.19,65.12 L165.99,65.3 L166.78,65.63 L167.58,66.11 L168.38,66.72 L169.17,67.49 L169.97,68.4 L170.77,69.44 L171.57,70.63 L172.36,71.96 L173.16,73.42 L173.96,75.02 L174.75,76.74 L175.55,78.6 L176.35,80.58 L177.15,82.68 L177.94,84.9 L178.74,87.24 L179.54,89.69 L180.33,92.25 L181.13,94.91 L181.93,97.67 L182.73,100.53 L183.52,103.48 L184.32,106.51 L185.12,109.64 L185.91,112.84 L186.71,116.11 L187.51,119.45 L188.31,122.86 L189.1,126.33 L189.9,129.85 L190.7,133.43 L191.49,137.05 L192.29,140.71 L193.09,144.41 L193.89,148.14 L194.68,151.9 L195.48,155.68 L196.28,159.48 L197.07,163.29 L197.87,167.12 L198.67,170.95 L199.47,174.77 L200.26,178.6 L201.06,182.42 L201.86,186.23 L202.65,190.02 L203.45,193.79 L204.25,197.55 L205.05,201.27 L205.84,204.97 L206.64,208.64 L207.44,212.27 L208.23,215.86 L209.03,219.41 L209.83,222.92 L210.63,226.39 L211.42,229.8 L212.22,233.17 L213.02,236.48 L213.81,239.74 L214.61,242.94 L215.41,246.09 L216.21,249.18 L217,252.21 L217.8,255.17 L218.6,258.08 L219.39,260.92 L220.19,263.7 L220.99,266.41 L221.79,269.06 L222.58,271.64 L223.38,274.16 L224.18,276.61 L224.97,279 L225.77,281.32 L226.57,283.58 L227.37,285.77 L228.16,287.9 L228.96,289.96 L229.76,291.96 L230.55,293.89 L231.35,295.77 L232.15,297.58 L232.95,299.33 L233.74,301.02 L234.54,302.65 L235.34,304.23 L236.13,305.75 L236.93,307.21 L237.73,308.62 L238.53,309.97 L239.32,311.27 L240.12,312.52 L240.92,313.72 L241.71,314.87 L242.51,315.98 L243.31,317.04 L244.1,318.05 L244.9,319.02 L245.7,319.95 L246.5,320.83 L247.29,321.68 L248.09,322.49 L248.89,323.26 L249.68,323.99 L250.48,324.69 L251.28,325.36 L252.08,325.99 L252.87,326.6 L253.67,327.17 L254.47,327.71 L255.26,328.23 L256.06,328.72 L256.86,329.19 L257.66,329.63 L258.45,330.04 L259.25,330.44 L260.05,330.81 L260.84,331.16 L261.64,331.49 L262.44,331.81 L263.24,332.11 L264.03,332.38 L264.83,332.65 L265.63,332.9 L266.42,333.13 L267.22,333.35 L268.02,333.55 L268.82,333.75 L269.61,333.93 L270.41,334.1 L271.21,334.26 L272,334.41 L272.8,334.55 L273.6,334.68 L274.4,334.81 L275.19,334.92 L275.99,335.03 L276.79,335.13 L277.58,335.22 L278.38,335.31 L279.18,335.39 L279.98,335.47 L280.77,335.54 L281.57,335.6 L282.37,335.66 L283.16,335.72 L283.96,335.77 L284.76,335.82 L285.56,335.87 L286.35,335.91 L287.15,335.95 L287.95,335.99 L288.74,336.02 L289.54,336.05 L290.34,336.08 L291.14,336.1 L291.93,336.13 L292.73,336.15 L293.53,336.17 L294.32,336.19 L295.12,336.21 L295.92,336.23 L296.72,336.24 L297.51,336.25 L298.31,336.27 L299.11,336.28 L299.9,336.29 L300.7,336.3 L301.5,336.31 L302.3,336.32 L303.09,336.32 L303.89,336.33 L304.69,336.34 L305.48,336.34 L306.28,336.35 L307.08,336.35 L307.88,336.36 L308.67,336.36 L309.47,336.36 L310.27,336.37 L311.06,336.37 L311.86,336.37 L312.66,336.38 L313.46,336.38 L314.25,336.38 L315.05,336.38 L315.85,336.38 L316.64,336.39 L317.44,336.39 L318.24,336.39 L319.03,336.39 L319.83,336.39 L320.63,336.39 L321.43,336.39 L322.22,336.39 L323.02,336.39 L323.82,336.39 L324.61,336.4 L325.41,336.4 L326.21,336.4 L327.01,336.4 L327.8,336.4 L328.6,336.4 L329.4,336.4 L330.19,336.4 L330.99,336.4 L331.79,336.4 L332.59,336.4 L333.38,336.4 L334.18,336.4 L334.98,336.4 L335.77,336.4 L336.57,336.4 L337.37,336.4 L338.17,336.4 L338.96,336.4 L339.76,336.4 L340.56,336.4 L341.35,336.4 L342.15,336.4 L342.95,336.4 L343.75,336.4 L344.54,336.4 L345.34,336.4 L346.14,336.4 L346.93,336.4 L347.73,336.4 L348.53,336.4 L349.33,336.4 L350.12,336.4 L350.92,336.4 L351.72,336.4 L352.51,336.4 L353.31,336.4 L354.11,336.4 L354.91,336.4 L355.7,336.4 L356.5,336.4 L357.3,336.4 L358.09,336.4 L358.89,336.4 L359.69,336.4 L360.49,336.4 L361.28,336.4 L362.08,336.4 L362.88,336.4 L363.67,336.4 L364.47,336.4 L365.27,336.4 L366.07,336.4 L366.86,336.4 L367.66,336.4 L368.46,336.4 L369.25,336.4 L370.05,336.4 L370.85,336.4 L371.65,336.4 L372.44,336.4 L373.24,336.4 L374.04,336.4 L374.83,336.4 L375.63,336.4 L376.43,336.4 L377.23,336.4 L378.02,336.4 L378.82,336.4 L379.62,336.4 L380.41,336.4 L381.21,336.4 L382.01,336.4 L382.81,336.4 L383.6,336.4 L384.4,336.4 L385.2,336.4 L385.99,336.4 L386.79,336.4 L387.59,336.4 L388.39,336.4 L389.18,336.4 L389.98,336.4 L390.78,336.4 L391.57,336.4 L392.37,336.4 L393.17,336.4 L393.97,336.4 L394.76,336.4 L395.56,336.4 L396.36,336.4 L397.15,336.4 L397.95,336.4 L398.75,336.4 L399.54,336.4 L400.34,336.4 L401.14,336.4 L401.94,336.4 L402.73,336.4 L403.53,336.4 L404.33,336.4 L405.12,336.4 L405.92,336.4 L406.72,336.4 L407.52,336.4 L408.31,336.4 L409.11,336.4 L409.91,336.4 L410.7,336.4 L411.5,336.4 L412.3,336.4 L413.1,336.4 L413.89,336.4 L414.69,336.4 L415.49,336.4 L416.28,336.4 L417.08,336.4 L417.88,336.4 L418.68,336.4 L419.47,336.4 L420.27,336.4 L421.07,336.4 L421.86,336.4 L422.66,336.4 L423.46,336.4 L424.26,336.4 L425.05,336.4 L425.85,336.4 L426.65,336.4 L427.44,336.4 L428.24,336.4 L429.04,336.4 L429.84,336.4 L430.63,336.4 L431.43,336.4 L432.23,336.4 L433.02,336.4 L433.82,336.4 L434.62,336.4 L435.42,336.4 L436.21,336.4 L437.01,336.4 L437.81,336.4 L438.6,336.4 L439.4,336.4 L440.2,336.4 L441,336.4 L441.79,336.4 L442.59,336.4 L443.39,336.4 L444.18,336.4 L444.98,336.4 L445.78,336.4 L446.58,336.4 L447.37,336.4 L448.17,336.4 L448.97,336.4 L449.76,336.4 L450.56,336.4 L451.36,336.4 L452.16,336.4 L452.95,336.4 L453.75,336.4 L454.55,336.4 L455.34,336.4 L456.14,336.4 L456.94,336.4 L457.74,336.4 L458.53,336.4 L459.33,336.4 L460.13,336.4 L460.92,336.4 L461.72,336.4 L462.52,336.4 L463.32,336.4 L464.11,336.4 L464.91,336.4 L465.71,336.4 L466.5,336.4 L467.3,336.4 L468.1,336.4 L468.9,336.4 L469.69,336.4 L470.49,336.4 L471.29,336.4 L472.08,336.4 L472.88,336.4 L473.68,336.4 L474.48,336.4 L475.27,336.4 L476.07,336.4 L476.87,336.4 L477.66,336.4 L478.46,336.4 L479.26,336.4 L480.05,336.4 L480.85,336.4 L481.65,336.4 L482.45,336.4 L483.24,336.4 L484.04,336.4 L484.84,336.4 L485.63,336.4 L486.43,336.4 L487.23,336.4 L488.03,336.4 L488.82,336.4 L489.62,336.4 L490.42,336.4 L491.21,336.4 L492.01,336.4 L492.81,336.4 L493.61,336.4 L494.4,336.4 L495.2,336.4 L496,336.4 L496.79,336.4 L497.59,336.4 L498.39,336.4 L499.19,336.4 L499.98,336.4 L500.78,336.4 L501.58,336.4 L502.37,336.4 L503.17,336.4 L503.97,336.4 L504.77,336.4 L505.56,336.4 L506.36,336.4 L507.16,336.4 L507.95,336.4 L508.75,336.4 L509.55,336.4 L510.35,336.4 L511.14,336.4 L511.94,336.4 L512.74,336.4 L513.53,336.4 L514.33,336.4 L515.13,336.4 L515.93,336.4 L516.72,336.4 L517.52,336.4" fill="none" stroke="#de201c" stroke-width="2.15"/>
<line x1="40" y1="336.4" x2="517.6" y2="336.4" stroke="#de201c" stroke-width="2.15"/>
<g fill="#111"><circle cx="39.08" cy="336.03" r="1.15"/><circle cx="41.7" cy="334" r="1.15"/><circle cx="44" cy="338.1" r="1.15"/><circle cx="46.3" cy="333.2" r="1.15"/><circle cx="48.4" cy="332.6" r="1.15"/><circle cx="50.4" cy="332.3" r="1.15"/><circle cx="52.7" cy="331.7" r="1.15"/><circle cx="54.4" cy="331.7" r="1.15"/><circle cx="56.5" cy="332" r="1.15"/><circle cx="58.5" cy="332.5" r="1.15"/><circle cx="60.8" cy="327.7" r="1.15"/><circle cx="63.1" cy="330.2" r="1.15"/><circle cx="64.9" cy="328" r="1.15"/><circle cx="66.8" cy="326.3" r="1.15"/><circle cx="69.4" cy="328.3" r="1.15"/><circle cx="71.1" cy="327.5" r="1.15"/><circle cx="73.2" cy="323.6" r="1.15"/><circle cx="75.2" cy="322.5" r="1.15"/><circle cx="77.1" cy="320.8" r="1.15"/><circle cx="79.8" cy="317.3" r="1.15"/><circle cx="81.5" cy="319" r="1.15"/><circle cx="84.4" cy="316.1" r="1.15"/><circle cx="86" cy="314.5" r="1.15"/><circle cx="87.9" cy="321" r="1.15"/><circle cx="89.6" cy="308.1" r="1.15"/><circle cx="91.9" cy="315" r="1.15"/><circle cx="94.46" cy="308.07" r="1.15"/><circle cx="94.59" cy="308.01" r="1.15"/><circle cx="97.29" cy="295.66" r="1.15"/><circle cx="100.07" cy="290.23" r="1.15"/><circle cx="102.28" cy="285.4" r="1.15"/><circle cx="105.67" cy="290.66" r="1.15"/><circle cx="108.81" cy="272.41" r="1.15"/><circle cx="109.96" cy="261.24" r="1.15"/><circle cx="113.25" cy="251.2" r="1.15"/><circle cx="116.41" cy="251.69" r="1.15"/><circle cx="116.76" cy="235.03" r="1.15"/><circle cx="119.82" cy="227.74" r="1.15"/><circle cx="121.84" cy="215.62" r="1.15"/><circle cx="125.73" cy="191.01" r="1.15"/><circle cx="127.89" cy="192.66" r="1.15"/><circle cx="130.72" cy="175.07" r="1.15"/><circle cx="133.1" cy="156.04" r="1.15"/><circle cx="134.51" cy="155.62" r="1.15"/><circle cx="137.98" cy="140.29" r="1.15"/><circle cx="139.33" cy="127.22" r="1.15"/><circle cx="141.84" cy="116.86" r="1.15"/><circle cx="142.65" cy="117.83" r="1.15"/><circle cx="145.9" cy="91.1" r="1.15"/><circle cx="147.9" cy="104.8" r="1.15"/><circle cx="149.9" cy="79.9" r="1.15"/><circle cx="151.9" cy="71.4" r="1.15"/><circle cx="154.2" cy="79.2" r="1.15"/><circle cx="156" cy="95.1" r="1.15"/><circle cx="158" cy="65.5" r="1.15"/><circle cx="159.9" cy="64.7" r="1.15"/><circle cx="162.6" cy="75.9" r="1.15"/><circle cx="164.7" cy="63.7" r="1.15"/><circle cx="166.8" cy="66" r="1.15"/><circle cx="168.8" cy="61" r="1.15"/><circle cx="171" cy="75.9" r="1.15"/><circle cx="173" cy="76.3" r="1.15"/><circle cx="175" cy="72.5" r="1.15"/><circle cx="176.8" cy="69.8" r="1.15"/><circle cx="179" cy="84" r="1.15"/><circle cx="181.1" cy="100" r="1.15"/><circle cx="183.2" cy="90" r="1.15"/><circle cx="187.55" cy="122.97" r="1.15"/><circle cx="187.77" cy="94.9" r="1.15"/><circle cx="188.18" cy="126.28" r="1.15"/><circle cx="191.96" cy="142.9" r="1.15"/><circle cx="195.66" cy="149.68" r="1.15"/><circle cx="197.92" cy="171.6" r="1.15"/><circle cx="198.35" cy="178.6" r="1.15"/><circle cx="201.81" cy="187.4" r="1.15"/><circle cx="204.41" cy="191.1" r="1.15"/><circle cx="207" cy="200.78" r="1.15"/><circle cx="209.4" cy="228.3" r="1.15"/><circle cx="211.13" cy="234.81" r="1.15"/><circle cx="213.87" cy="235.19" r="1.15"/><circle cx="216.7" cy="260.23" r="1.15"/><circle cx="220.45" cy="258.98" r="1.15"/><circle cx="221.39" cy="264.11" r="1.15"/><circle cx="225.07" cy="263.03" r="1.15"/><circle cx="225.79" cy="271.81" r="1.15"/><circle cx="230.64" cy="281.84" r="1.15"/><circle cx="232" cy="285.7" r="1.15"/><circle cx="234.36" cy="287.82" r="1.15"/><circle cx="237.62" cy="291.41" r="1.15"/><circle cx="238.16" cy="280.76" r="1.15"/><circle cx="240.37" cy="290.83" r="1.15"/><circle cx="244.78" cy="286.75" r="1.15"/><circle cx="246.04" cy="287.53" r="1.15"/><circle cx="248.92" cy="285.62" r="1.15"/><circle cx="254.03" cy="278.18" r="1.15"/><circle cx="254.4" cy="287.44" r="1.15"/><circle cx="256.84" cy="276.53" r="1.15"/><circle cx="260" cy="258.75" r="1.15"/><circle cx="263.5" cy="257" r="1.15"/><circle cx="266" cy="254" r="1.15"/><circle cx="268.5" cy="257.75" r="1.15"/><circle cx="271.5" cy="251" r="1.15"/><circle cx="274.4" cy="247.75" r="1.15"/><circle cx="276.9" cy="228.5" r="1.15"/><circle cx="278.75" cy="244.4" r="1.15"/><circle cx="281" cy="240" r="1.15"/><circle cx="284.75" cy="224.4" r="1.15"/><circle cx="286.9" cy="245.6" r="1.15"/><circle cx="288.75" cy="231.9" r="1.15"/><circle cx="291.25" cy="231" r="1.15"/><circle cx="293" cy="230.8" r="1.15"/><circle cx="295" cy="230.25" r="1.15"/><circle cx="297.5" cy="247.75" r="1.15"/><circle cx="300.5" cy="252" r="1.15"/><circle cx="303.5" cy="257.5" r="1.15"/><circle cx="306.5" cy="259" r="1.15"/><circle cx="310" cy="256.25" r="1.15"/><circle cx="311.03" cy="267.43" r="1.15"/><circle cx="314.13" cy="268.09" r="1.15"/><circle cx="317.14" cy="274.85" r="1.15"/><circle cx="319.69" cy="288.57" r="1.15"/><circle cx="319.95" cy="289.12" r="1.15"/><circle cx="323.53" cy="293.83" r="1.15"/><circle cx="326.46" cy="303.89" r="1.15"/><circle cx="329.36" cy="302.51" r="1.15"/><circle cx="332.62" cy="311.69" r="1.15"/><circle cx="334.07" cy="307.94" r="1.15"/><circle cx="335.62" cy="314.78" r="1.15"/><circle cx="339.38" cy="318.4" r="1.15"/><circle cx="341.7" cy="323.74" r="1.15"/><circle cx="344.19" cy="324.47" r="1.15"/><circle cx="346.35" cy="332.94" r="1.15"/><circle cx="350.54" cy="331.71" r="1.15"/><circle cx="351.67" cy="328.49" r="1.15"/><circle cx="354.78" cy="337.31" r="1.15"/><circle cx="355.54" cy="329.59" r="1.15"/><circle cx="359.68" cy="337.81" r="1.15"/><circle cx="360.83" cy="331.64" r="1.15"/><circle cx="362.38" cy="336.49" r="1.15"/><circle cx="366.7" cy="332.79" r="1.15"/><circle cx="369.48" cy="334.82" r="1.15"/><circle cx="371.18" cy="339.14" r="1.15"/><circle cx="373.86" cy="332.75" r="1.15"/><circle cx="377.34" cy="332.55" r="1.15"/><circle cx="378.38" cy="336.15" r="1.15"/><circle cx="379.33" cy="336.71" r="1.15"/><circle cx="384.08" cy="336.53" r="1.15"/><circle cx="386.52" cy="338.34" r="1.15"/><circle cx="389.85" cy="333.96" r="1.15"/><circle cx="390.98" cy="337.46" r="1.15"/><circle cx="395.03" cy="336.45" r="1.15"/><circle cx="397.38" cy="338" r="1.15"/><circle cx="397.5" cy="337.65" r="1.15"/><circle cx="402.17" cy="338.98" r="1.15"/><circle cx="402.68" cy="333.84" r="1.15"/><circle cx="404.73" cy="336.7" r="1.15"/><circle cx="408.48" cy="334.45" r="1.15"/><circle cx="410.68" cy="336.37" r="1.15"/><circle cx="411.77" cy="337.78" r="1.15"/><circle cx="416.41" cy="337.05" r="1.15"/><circle cx="419.29" cy="337.51" r="1.15"/><circle cx="422.54" cy="336.38" r="1.15"/><circle cx="423.64" cy="337.14" r="1.15"/><circle cx="424.7" cy="336.99" r="1.15"/><circle cx="427.71" cy="339.13" r="1.15"/><circle cx="432.1" cy="338" r="1.15"/><circle cx="434.5" cy="333.13" r="1.15"/><circle cx="436.64" cy="337.73" r="1.15"/><circle cx="438.34" cy="338.49" r="1.15"/><circle cx="441.33" cy="335.73" r="1.15"/><circle cx="443.4" cy="333.62" r="1.15"/><circle cx="445.81" cy="339.27" r="1.15"/><circle cx="448.89" cy="336.81" r="1.15"/><circle cx="451.13" cy="337.65" r="1.15"/><circle cx="453.37" cy="339.88" r="1.15"/><circle cx="456.15" cy="334.95" r="1.15"/><circle cx="458.06" cy="336.45" r="1.15"/><circle cx="459.19" cy="336.26" r="1.15"/><circle cx="462.95" cy="337.89" r="1.15"/><circle cx="465.98" cy="335.5" r="1.15"/><circle cx="470.21" cy="337.47" r="1.15"/><circle cx="470.63" cy="336.68" r="1.15"/><circle cx="475.45" cy="338.59" r="1.15"/><circle cx="477.4" cy="338.8" r="1.15"/><circle cx="477.64" cy="333.76" r="1.15"/><circle cx="480.28" cy="337.4" r="1.15"/><circle cx="483.62" cy="335.82" r="1.15"/><circle cx="487.67" cy="336.47" r="1.15"/><circle cx="488.83" cy="337.27" r="1.15"/><circle cx="491.62" cy="337.4" r="1.15"/><circle cx="492.8" cy="335.15" r="1.15"/><circle cx="493.68" cy="337" r="1.15"/><circle cx="498.2" cy="336.7" r="1.15"/><circle cx="501.69" cy="336.36" r="1.15"/><circle cx="504.57" cy="334.08" r="1.15"/><circle cx="505.95" cy="335.06" r="1.15"/><circle cx="508.56" cy="335.64" r="1.15"/><circle cx="512.02" cy="337.51" r="1.15"/><circle cx="513.25" cy="339.13" r="1.15"/><circle cx="517.01" cy="334.52" r="1.15"/></g>
</g>
<line x1="167.6" y1="156.5" x2="282.01" y2="156.5" stroke="#111" stroke-width="1.4"/>
<path d="M164.6,156.5 l9,-2.6 l0,5.2 Z M285.01,156.5 l-9,-2.6 l0,5.2 Z" fill="#111"/>
<text x="200.9" y="153.3" font-size="14" letter-spacing="0.3">2.9 eV</text>
<rect x="40" y="1.5" width="477.6" height="350.2" fill="none" stroke="#2e2e2e" stroke-width="1.5"/>
<line x1="517.6" y1="351.7" x2="517.6" y2="354.7" stroke="#2e2e2e" stroke-width="1.6"/>
<path d="M476,351.7 v6 M476,1.5 v6 M434.48,351.7 v3 M434.48,1.5 v3 M392.96,351.7 v6 M392.96,1.5 v6 M351.44,351.7 v3 M351.44,1.5 v3 M309.92,351.7 v6 M309.92,1.5 v6 M268.4,351.7 v3 M268.4,1.5 v3 M226.88,351.7 v6 M226.88,1.5 v6 M185.36,351.7 v3 M185.36,1.5 v3 M143.84,351.7 v6 M143.84,1.5 v1.2 M102.32,351.7 v3 M102.32,1.5 v1.2 M60.8,351.7 v6 M60.8,1.5 v1.2 M40,336.4 h-6 M517.6,336.4 h-6 M40,317.4 h-3 M517.6,317.4 h-3 M40,298.4 h-3 M517.6,298.4 h-3 M40,279.4 h-3 M517.6,279.4 h-3 M40,260.4 h-6 M517.6,260.4 h-6 M40,241.4 h-3 M517.6,241.4 h-3 M40,222.4 h-3 M517.6,222.4 h-3 M40,203.4 h-3 M517.6,203.4 h-3 M40,184.4 h-6 M517.6,184.4 h-6 M40,165.4 h-3 M517.6,165.4 h-3 M40,146.4 h-3 M517.6,146.4 h-3 M40,127.4 h-3 M517.6,127.4 h-3 M40,108.4 h-6 M517.6,108.4 h-6 M40,89.4 h-3 M517.6,89.4 h-3 M40,70.4 h-3 M517.6,70.4 h-3 M40,51.4 h-3 M517.6,51.4 h-3 M40,32.4 h-6 M517.6,32.4 h-6 M40,13.4 h-3 M517.6,13.4 h-3" stroke="#2e2e2e" stroke-width="1.4" fill="none"/>
<text x="476" y="372.4" font-size="13.2" text-anchor="middle">72</text>
<text x="392.96" y="372.4" font-size="13.2" text-anchor="middle">74</text>
<text x="309.92" y="372.4" font-size="13.2" text-anchor="middle">76</text>
<text x="226.88" y="372.4" font-size="13.2" text-anchor="middle">78</text>
<text x="143.84" y="372.4" font-size="13.2" text-anchor="middle">80</text>
<text x="60.8" y="372.4" font-size="13.2" text-anchor="middle">82</text>
<text x="29.6" y="340.4" font-size="13.2" text-anchor="end">0</text>
<text x="29.6" y="264.4" font-size="13.2" text-anchor="end">1</text>
<text x="29.6" y="188.4" font-size="13.2" text-anchor="end">2</text>
<text x="29.6" y="112.4" font-size="13.2" text-anchor="end">3</text>
<text x="29.6" y="36.4" font-size="13.2" text-anchor="end">4</text>
<line x1="387.5" y1="12.75" x2="423.6" y2="12.75" stroke="#b8b8b8" stroke-width="1"/>
<circle cx="405.6" cy="12.75" r="1.6" fill="#111"/>
<text x="428.52" y="18.1" font-size="16" letter-spacing="0.19">Experiment</text>
<line x1="387.5" y1="32.75" x2="424.4" y2="32.75" stroke="#f07a30" stroke-width="2.3"/>
<text x="428.42" y="38" font-size="16" letter-spacing="0.14">Envolope</text>
<rect x="387.5" y="44" width="36.1" height="17.4" fill="url(#hr)" stroke="#7a7a7a" stroke-width="1"/>
<text x="428.92" y="58.2" font-size="16">Al-F</text>
<rect x="387.5" y="63.7" width="36.1" height="17.4" fill="url(#hg)" stroke="#7a7a7a" stroke-width="1"/>
<text x="428.92" y="77.9" font-size="16">Al-O</text>
<g clip-path="url(#clipb)">
<path d="M39.28,715.2 L40.08,715.2 L40.88,715.2 L41.68,715.2 L42.48,715.2 L43.28,715.2 L44.08,715.2 L44.88,715.2 L45.68,715.2 L46.47,715.2 L47.27,715.2 L48.07,715.2 L48.87,715.2 L49.67,715.2 L50.47,715.2 L51.27,715.2 L52.07,715.2 L52.87,715.2 L53.67,715.2 L54.47,715.2 L55.27,715.2 L56.07,715.2 L56.87,715.2 L57.67,715.2 L58.47,715.2 L59.27,715.2 L60.07,715.2 L60.86,715.2 L61.66,715.2 L62.46,715.2 L63.26,715.19 L64.06,715.19 L64.86,715.19 L65.66,715.19 L66.46,715.19 L67.26,715.19 L68.06,715.19 L68.86,715.19 L69.66,715.19 L70.46,715.18 L71.26,715.18 L72.06,715.18 L72.86,715.18 L73.66,715.17 L74.46,715.17 L75.25,715.17 L76.05,715.16 L76.85,715.16 L77.65,715.15 L78.45,715.15 L79.25,715.14 L80.05,715.13 L80.85,715.13 L81.65,715.12 L82.45,715.11 L83.25,715.1 L84.05,715.09 L84.85,715.07 L85.65,715.06 L86.45,715.04 L87.25,715.02 L88.05,715 L88.84,714.98 L89.64,714.96 L90.44,714.93 L91.24,714.9 L92.04,714.87 L92.84,714.84 L93.64,714.8 L94.44,714.75 L95.24,714.71 L96.04,714.66 L96.84,714.6 L97.64,714.54 L98.44,714.47 L99.24,714.4 L100.04,714.32 L100.84,714.23 L101.64,714.14 L102.44,714.03 L103.23,713.92 L104.03,713.8 L104.83,713.67 L105.63,713.53 L106.43,713.37 L107.23,713.2 L108.03,713.02 L108.83,712.83 L109.63,712.61 L110.43,712.39 L111.23,712.14 L112.03,711.87 L112.83,711.59 L113.63,711.28 L114.43,710.95 L115.23,710.6 L116.03,710.22 L116.82,709.81 L117.62,709.37 L118.42,708.91 L119.22,708.41 L120.02,707.88 L120.82,707.31 L121.62,706.7 L122.42,706.06 L123.22,705.37 L124.02,704.65 L124.82,703.87 L125.62,703.05 L126.42,702.18 L127.22,701.26 L128.02,700.28 L128.82,699.25 L129.62,698.16 L130.42,697 L131.21,695.79 L132.01,694.51 L132.81,693.17 L133.61,691.75 L134.41,690.26 L135.21,688.7 L136.01,687.06 L136.81,685.35 L137.61,683.55 L138.41,681.68 L139.21,679.72 L140.01,677.67 L140.81,675.54 L141.61,673.31 L142.41,671 L143.21,668.59 L144.01,666.1 L144.81,663.51 L145.6,660.82 L146.4,658.04 L147.2,655.16 L148,652.19 L148.8,649.12 L149.6,645.95 L150.4,642.69 L151.2,639.34 L152,635.89 L152.8,632.35 L153.6,628.71 L154.4,624.99 L155.2,621.18 L156,617.29 L156.8,613.31 L157.6,609.25 L158.4,605.12 L159.19,600.92 L159.99,596.64 L160.79,592.3 L161.59,587.9 L162.39,583.45 L163.19,578.94 L163.99,574.39 L164.79,569.8 L165.59,565.18 L166.39,560.53 L167.19,555.86 L167.99,551.17 L168.79,546.48 L169.59,541.79 L170.39,537.1 L171.19,532.44 L171.99,527.79 L172.79,523.17 L173.58,518.59 L174.38,514.06 L175.18,509.59 L175.98,505.17 L176.78,500.83 L177.58,496.57 L178.38,492.4 L179.18,488.32 L179.98,484.34 L180.78,480.48 L181.58,476.74 L182.38,473.12 L183.18,469.65 L183.98,466.31 L184.78,463.12 L185.58,460.09 L186.38,457.23 L187.17,454.53 L187.97,452.01 L188.77,449.67 L189.57,447.52 L190.37,445.56 L191.17,443.79 L191.97,442.23 L192.77,440.86 L193.57,439.71 L194.37,438.76 L195.17,438.03 L195.97,437.5 L196.77,437.2 L197.57,437.1 L198.37,437.23 L199.17,437.56 L199.97,438.12 L200.77,438.88 L201.56,439.86 L202.36,441.04 L203.16,442.43 L203.96,444.03 L204.76,445.82 L205.56,447.81 L206.36,449.99 L207.16,452.35 L207.96,454.9 L208.76,457.62 L209.56,460.51 L210.36,463.56 L211.16,466.77 L211.96,470.12 L212.76,473.62 L213.56,477.25 L214.36,481.01 L215.16,484.89 L215.95,488.88 L216.75,492.97 L217.55,497.16 L218.35,501.43 L219.15,505.78 L219.95,510.21 L220.75,514.69 L221.55,519.23 L222.35,523.81 L223.15,528.43 L223.95,533.08 L224.75,537.76 L225.55,542.44 L226.35,547.13 L227.15,551.83 L227.95,556.51 L228.75,561.18 L229.54,565.82 L230.34,570.44 L231.14,575.03 L231.94,579.57 L232.74,584.07 L233.54,588.52 L234.34,592.91 L235.14,597.24 L235.94,601.5 L236.74,605.7 L237.54,609.82 L238.34,613.87 L239.14,617.83 L239.94,621.72 L240.74,625.52 L241.54,629.23 L242.34,632.85 L243.14,636.37 L243.93,639.81 L244.73,643.15 L245.53,646.4 L246.33,649.55 L247.13,652.61 L247.93,655.57 L248.73,658.43 L249.53,661.2 L250.33,663.87 L251.13,666.45 L251.93,668.93 L252.73,671.33 L253.53,673.63 L254.33,675.84 L255.13,677.96 L255.93,679.99 L256.73,681.94 L257.53,683.81 L258.32,685.59 L259.12,687.3 L259.92,688.92 L260.72,690.47 L261.52,691.95 L262.32,693.36 L263.12,694.69 L263.92,695.96 L264.72,697.17 L265.52,698.31 L266.32,699.39 L267.12,700.42 L267.92,701.39 L268.72,702.3 L269.52,703.17 L270.32,703.98 L271.12,704.75 L271.91,705.47 L272.71,706.15 L273.51,706.79 L274.31,707.39 L275.11,707.95 L275.91,708.48 L276.71,708.97 L277.51,709.44 L278.31,709.87 L279.11,710.27 L279.91,710.65 L280.71,711 L281.51,711.32 L282.31,711.63 L283.11,711.91 L283.91,712.17 L284.71,712.42 L285.51,712.64 L286.3,712.85 L287.1,713.05 L287.9,713.23 L288.7,713.39 L289.5,713.55 L290.3,713.69 L291.1,713.82 L291.9,713.94 L292.7,714.05 L293.5,714.15 L294.3,714.24 L295.1,714.33 L295.9,714.41 L296.7,714.48 L297.5,714.55 L298.3,714.61 L299.1,714.66 L299.89,714.71 L300.69,714.76 L301.49,714.8 L302.29,714.84 L303.09,714.87 L303.89,714.91 L304.69,714.94 L305.49,714.96 L306.29,714.99 L307.09,715.01 L307.89,715.03 L308.69,715.04 L309.49,715.06 L310.29,715.07 L311.09,715.09 L311.89,715.1 L312.69,715.11 L313.49,715.12 L314.28,715.13 L315.08,715.14 L315.88,715.14 L316.68,715.15 L317.48,715.15 L318.28,715.16 L319.08,715.16 L319.88,715.17 L320.68,715.17 L321.48,715.17 L322.28,715.18 L323.08,715.18 L323.88,715.18 L324.68,715.18 L325.48,715.19 L326.28,715.19 L327.08,715.19 L327.88,715.19 L328.67,715.19 L329.47,715.19 L330.27,715.19 L331.07,715.19 L331.87,715.2 L332.67,715.2 L333.47,715.2 L334.27,715.2 L335.07,715.2 L335.87,715.2 L336.67,715.2 L337.47,715.2 L338.27,715.2 L339.07,715.2 L339.87,715.2 L340.67,715.2 L341.47,715.2 L342.26,715.2 L343.06,715.2 L343.86,715.2 L344.66,715.2 L345.46,715.2 L346.26,715.2 L347.06,715.2 L347.86,715.2 L348.66,715.2 L349.46,715.2 L350.26,715.2 L351.06,715.2 L351.86,715.2 L352.66,715.2 L353.46,715.2 L354.26,715.2 L355.06,715.2 L355.86,715.2 L356.65,715.2 L357.45,715.2 L358.25,715.2 L359.05,715.2 L359.85,715.2 L360.65,715.2 L361.45,715.2 L362.25,715.2 L363.05,715.2 L363.85,715.2 L364.65,715.2 L365.45,715.2 L366.25,715.2 L367.05,715.2 L367.85,715.2 L368.65,715.2 L369.45,715.2 L370.25,715.2 L371.04,715.2 L371.84,715.2 L372.64,715.2 L373.44,715.2 L374.24,715.2 L375.04,715.2 L375.84,715.2 L376.64,715.2 L377.44,715.2 L378.24,715.2 L379.04,715.2 L379.84,715.2 L380.64,715.2 L381.44,715.2 L382.24,715.2 L383.04,715.2 L383.84,715.2 L384.63,715.2 L385.43,715.2 L386.23,715.2 L387.03,715.2 L387.83,715.2 L388.63,715.2 L389.43,715.2 L390.23,715.2 L391.03,715.2 L391.83,715.2 L392.63,715.2 L393.43,715.2 L394.23,715.2 L395.03,715.2 L395.83,715.2 L396.63,715.2 L397.43,715.2 L398.23,715.2 L399.02,715.2 L399.82,715.2 L400.62,715.2 L401.42,715.2 L402.22,715.2 L403.02,715.2 L403.82,715.2 L404.62,715.2 L405.42,715.2 L406.22,715.2 L407.02,715.2 L407.82,715.2 L408.62,715.2 L409.42,715.2 L410.22,715.2 L411.02,715.2 L411.82,715.2 L412.61,715.2 L413.41,715.2 L414.21,715.2 L415.01,715.2 L415.81,715.2 L416.61,715.2 L417.41,715.2 L418.21,715.2 L419.01,715.2 L419.81,715.2 L420.61,715.2 L421.41,715.2 L422.21,715.2 L423.01,715.2 L423.81,715.2 L424.61,715.2 L425.41,715.2 L426.21,715.2 L427,715.2 L427.8,715.2 L428.6,715.2 L429.4,715.2 L430.2,715.2 L431,715.2 L431.8,715.2 L432.6,715.2 L433.4,715.2 L434.2,715.2 L435,715.2 L435.8,715.2 L436.6,715.2 L437.4,715.2 L438.2,715.2 L439,715.2 L439.8,715.2 L440.6,715.2 L441.39,715.2 L442.19,715.2 L442.99,715.2 L443.79,715.2 L444.59,715.2 L445.39,715.2 L446.19,715.2 L446.99,715.2 L447.79,715.2 L448.59,715.2 L449.39,715.2 L450.19,715.2 L450.99,715.2 L451.79,715.2 L452.59,715.2 L453.39,715.2 L454.19,715.2 L454.98,715.2 L455.78,715.2 L456.58,715.2 L457.38,715.2 L458.18,715.2 L458.98,715.2 L459.78,715.2 L460.58,715.2 L461.38,715.2 L462.18,715.2 L462.98,715.2 L463.78,715.2 L464.58,715.2 L465.38,715.2 L466.18,715.2 L466.98,715.2 L467.78,715.2 L468.58,715.2 L469.37,715.2 L470.17,715.2 L470.97,715.2 L471.77,715.2 L472.57,715.2 L473.37,715.2 L474.17,715.2 L474.97,715.2 L475.77,715.2 L476.57,715.2 L477.37,715.2 L478.17,715.2 L478.97,715.2 L479.77,715.2 L480.57,715.2 L481.37,715.2 L482.17,715.2 L482.96,715.2 L483.76,715.2 L484.56,715.2 L485.36,715.2 L486.16,715.2 L486.96,715.2 L487.76,715.2 L488.56,715.2 L489.36,715.2 L490.16,715.2 L490.96,715.2 L491.76,715.2 L492.56,715.2 L493.36,715.2 L494.16,715.2 L494.96,715.2 L495.76,715.2 L496.56,715.2 L497.35,715.2 L498.15,715.2 L498.95,715.2 L499.75,715.2 L500.55,715.2 L501.35,715.2 L502.15,715.2 L502.95,715.2 L503.75,715.2 L504.55,715.2 L505.35,715.2 L506.15,715.2 L506.95,715.2 L507.75,715.2 L508.55,715.2 L509.35,715.2 L510.15,715.2 L510.95,715.2 L511.74,715.2 L512.54,715.2 L513.34,715.2 L514.14,715.2 L514.94,715.2 L515.74,715.2 L516.54,715.2 L517.34,715.2 L518.14,715.2 L518.14,715.2 L39.28,715.2 Z" fill="url(#hr)"/>
<path d="M39.28,715.2 L40.08,715.2 L40.88,715.2 L41.68,715.2 L42.48,715.2 L43.28,715.2 L44.08,715.2 L44.88,715.2 L45.68,715.2 L46.47,715.2 L47.27,715.2 L48.07,715.2 L48.87,715.2 L49.67,715.2 L50.47,715.2 L51.27,715.2 L52.07,715.2 L52.87,715.2 L53.67,715.2 L54.47,715.2 L55.27,715.2 L56.07,715.2 L56.87,715.2 L57.67,715.2 L58.47,715.2 L59.27,715.2 L60.07,715.2 L60.86,715.2 L61.66,715.2 L62.46,715.2 L63.26,715.2 L64.06,715.2 L64.86,715.2 L65.66,715.2 L66.46,715.2 L67.26,715.2 L68.06,715.2 L68.86,715.2 L69.66,715.2 L70.46,715.2 L71.26,715.2 L72.06,715.2 L72.86,715.2 L73.66,715.2 L74.46,715.2 L75.25,715.2 L76.05,715.2 L76.85,715.2 L77.65,715.2 L78.45,715.2 L79.25,715.2 L80.05,715.2 L80.85,715.2 L81.65,715.2 L82.45,715.2 L83.25,715.2 L84.05,715.2 L84.85,715.2 L85.65,715.2 L86.45,715.2 L87.25,715.2 L88.05,715.2 L88.84,715.2 L89.64,715.2 L90.44,715.2 L91.24,715.2 L92.04,715.2 L92.84,715.2 L93.64,715.2 L94.44,715.2 L95.24,715.2 L96.04,715.2 L96.84,715.2 L97.64,715.2 L98.44,715.2 L99.24,715.2 L100.04,715.2 L100.84,715.2 L101.64,715.2 L102.44,715.2 L103.23,715.2 L104.03,715.2 L104.83,715.2 L105.63,715.2 L106.43,715.2 L107.23,715.2 L108.03,715.2 L108.83,715.2 L109.63,715.2 L110.43,715.2 L111.23,715.2 L112.03,715.2 L112.83,715.2 L113.63,715.2 L114.43,715.2 L115.23,715.2 L116.03,715.2 L116.82,715.2 L117.62,715.2 L118.42,715.2 L119.22,715.2 L120.02,715.2 L120.82,715.2 L121.62,715.2 L122.42,715.2 L123.22,715.2 L124.02,715.2 L124.82,715.2 L125.62,715.2 L126.42,715.2 L127.22,715.2 L128.02,715.2 L128.82,715.2 L129.62,715.2 L130.42,715.2 L131.21,715.2 L132.01,715.2 L132.81,715.2 L133.61,715.2 L134.41,715.2 L135.21,715.2 L136.01,715.2 L136.81,715.2 L137.61,715.2 L138.41,715.2 L139.21,715.2 L140.01,715.2 L140.81,715.2 L141.61,715.2 L142.41,715.2 L143.21,715.2 L144.01,715.2 L144.81,715.2 L145.6,715.2 L146.4,715.2 L147.2,715.2 L148,715.2 L148.8,715.2 L149.6,715.2 L150.4,715.2 L151.2,715.2 L152,715.2 L152.8,715.2 L153.6,715.2 L154.4,715.2 L155.2,715.2 L156,715.2 L156.8,715.2 L157.6,715.2 L158.4,715.2 L159.19,715.2 L159.99,715.2 L160.79,715.2 L161.59,715.2 L162.39,715.2 L163.19,715.2 L163.99,715.2 L164.79,715.2 L165.59,715.2 L166.39,715.2 L167.19,715.2 L167.99,715.2 L168.79,715.2 L169.59,715.2 L170.39,715.2 L171.19,715.2 L171.99,715.2 L172.79,715.2 L173.58,715.2 L174.38,715.2 L175.18,715.2 L175.98,715.19 L176.78,715.19 L177.58,715.19 L178.38,715.19 L179.18,715.19 L179.98,715.19 L180.78,715.19 L181.58,715.19 L182.38,715.18 L183.18,715.18 L183.98,715.18 L184.78,715.18 L185.58,715.17 L186.38,715.17 L187.17,715.17 L187.97,715.16 L188.77,715.16 L189.57,715.15 L190.37,715.15 L191.17,715.14 L191.97,715.13 L192.77,715.13 L193.57,715.12 L194.37,715.11 L195.17,715.1 L195.97,715.09 L196.77,715.07 L197.57,715.06 L198.37,715.04 L199.17,715.02 L199.97,715 L200.77,714.98 L201.56,714.96 L202.36,714.93 L203.16,714.9 L203.96,714.87 L204.76,714.84 L205.56,714.8 L206.36,714.76 L207.16,714.71 L207.96,714.66 L208.76,714.6 L209.56,714.54 L210.36,714.48 L211.16,714.4 L211.96,714.33 L212.76,714.24 L213.56,714.15 L214.36,714.05 L215.16,713.94 L215.95,713.82 L216.75,713.69 L217.55,713.55 L218.35,713.4 L219.15,713.24 L219.95,713.07 L220.75,712.88 L221.55,712.67 L222.35,712.46 L223.15,712.22 L223.95,711.97 L224.75,711.7 L225.55,711.41 L226.35,711.1 L227.15,710.76 L227.95,710.41 L228.75,710.03 L229.54,709.62 L230.34,709.19 L231.14,708.72 L231.94,708.23 L232.74,707.71 L233.54,707.16 L234.34,706.57 L235.14,705.95 L235.94,705.29 L236.74,704.59 L237.54,703.85 L238.34,703.07 L239.14,702.25 L239.94,701.39 L240.74,700.47 L241.54,699.52 L242.34,698.51 L243.14,697.45 L243.93,696.34 L244.73,695.18 L245.53,693.97 L246.33,692.7 L247.13,691.38 L247.93,689.99 L248.73,688.55 L249.53,687.06 L250.33,685.5 L251.13,683.88 L251.93,682.2 L252.73,680.46 L253.53,678.66 L254.33,676.8 L255.13,674.87 L255.93,672.89 L256.73,670.84 L257.53,668.74 L258.32,666.57 L259.12,664.35 L259.92,662.07 L260.72,659.73 L261.52,657.34 L262.32,654.89 L263.12,652.4 L263.92,649.85 L264.72,647.26 L265.52,644.63 L266.32,641.95 L267.12,639.24 L267.92,636.49 L268.72,633.71 L269.52,630.9 L270.32,628.07 L271.12,625.22 L271.91,622.35 L272.71,619.47 L273.51,616.58 L274.31,613.69 L275.11,610.8 L275.91,607.93 L276.71,605.06 L277.51,602.21 L278.31,599.38 L279.11,596.58 L279.91,593.82 L280.71,591.09 L281.51,588.41 L282.31,585.78 L283.11,583.2 L283.91,580.69 L284.71,578.24 L285.51,575.86 L286.3,573.56 L287.1,571.34 L287.9,569.21 L288.7,567.17 L289.5,565.23 L290.3,563.38 L291.1,561.65 L291.9,560.02 L292.7,558.51 L293.5,557.11 L294.3,555.83 L295.1,554.68 L295.9,553.65 L296.7,552.75 L297.5,551.99 L298.3,551.35 L299.1,550.86 L299.89,550.49 L300.69,550.27 L301.49,550.18 L302.29,550.23 L303.09,550.41 L303.89,550.73 L304.69,551.19 L305.49,551.79 L306.29,552.51 L307.09,553.37 L307.89,554.36 L308.69,555.48 L309.49,556.72 L310.29,558.08 L311.09,559.56 L311.89,561.15 L312.69,562.86 L313.49,564.67 L314.28,566.58 L315.08,568.6 L315.88,570.7 L316.68,572.89 L317.48,575.17 L318.28,577.53 L319.08,579.95 L319.88,582.45 L320.68,585.01 L321.48,587.63 L322.28,590.29 L323.08,593.01 L323.88,595.76 L324.68,598.55 L325.48,601.37 L326.28,604.21 L327.08,607.08 L327.88,609.95 L328.67,612.84 L329.47,615.73 L330.27,618.62 L331.07,621.5 L331.87,624.37 L332.67,627.23 L333.47,630.07 L334.27,632.88 L335.07,635.67 L335.87,638.43 L336.67,641.15 L337.47,643.84 L338.27,646.49 L339.07,649.09 L339.87,651.65 L340.67,654.16 L341.47,656.62 L342.26,659.03 L343.06,661.38 L343.86,663.68 L344.66,665.92 L345.46,668.1 L346.26,670.23 L347.06,672.29 L347.86,674.29 L348.66,676.23 L349.46,678.12 L350.26,679.93 L351.06,681.69 L351.86,683.39 L352.66,685.03 L353.46,686.6 L354.26,688.12 L355.06,689.57 L355.86,690.97 L356.65,692.32 L357.45,693.6 L358.25,694.83 L359.05,696.01 L359.85,697.13 L360.65,698.2 L361.45,699.22 L362.25,700.2 L363.05,701.12 L363.85,702 L364.65,702.83 L365.45,703.63 L366.25,704.38 L367.05,705.09 L367.85,705.76 L368.65,706.39 L369.45,706.99 L370.25,707.55 L371.04,708.08 L371.84,708.58 L372.64,709.05 L373.44,709.49 L374.24,709.91 L375.04,710.3 L375.84,710.66 L376.64,711 L377.44,711.32 L378.24,711.61 L379.04,711.89 L379.84,712.15 L380.64,712.39 L381.44,712.61 L382.24,712.82 L383.04,713.01 L383.84,713.19 L384.63,713.36 L385.43,713.51 L386.23,713.65 L387.03,713.78 L387.83,713.91 L388.63,714.02 L389.43,714.12 L390.23,714.21 L391.03,714.3 L391.83,714.38 L392.63,714.46 L393.43,714.52 L394.23,714.59 L395.03,714.64 L395.83,714.69 L396.63,714.74 L397.43,714.79 L398.23,714.82 L399.02,714.86 L399.82,714.89 L400.62,714.92 L401.42,714.95 L402.22,714.98 L403.02,715 L403.82,715.02 L404.62,715.04 L405.42,715.05 L406.22,715.07 L407.02,715.08 L407.82,715.09 L408.62,715.11 L409.42,715.12 L410.22,715.12 L411.02,715.13 L411.82,715.14 L412.61,715.15 L413.41,715.15 L414.21,715.16 L415.01,715.16 L415.81,715.17 L416.61,715.17 L417.41,715.17 L418.21,715.18 L419.01,715.18 L419.81,715.18 L420.61,715.18 L421.41,715.19 L422.21,715.19 L423.01,715.19 L423.81,715.19 L424.61,715.19 L425.41,715.19 L426.21,715.19 L427,715.19 L427.8,715.19 L428.6,715.2 L429.4,715.2 L430.2,715.2 L431,715.2 L431.8,715.2 L432.6,715.2 L433.4,715.2 L434.2,715.2 L435,715.2 L435.8,715.2 L436.6,715.2 L437.4,715.2 L438.2,715.2 L439,715.2 L439.8,715.2 L440.6,715.2 L441.39,715.2 L442.19,715.2 L442.99,715.2 L443.79,715.2 L444.59,715.2 L445.39,715.2 L446.19,715.2 L446.99,715.2 L447.79,715.2 L448.59,715.2 L449.39,715.2 L450.19,715.2 L450.99,715.2 L451.79,715.2 L452.59,715.2 L453.39,715.2 L454.19,715.2 L454.98,715.2 L455.78,715.2 L456.58,715.2 L457.38,715.2 L458.18,715.2 L458.98,715.2 L459.78,715.2 L460.58,715.2 L461.38,715.2 L462.18,715.2 L462.98,715.2 L463.78,715.2 L464.58,715.2 L465.38,715.2 L466.18,715.2 L466.98,715.2 L467.78,715.2 L468.58,715.2 L469.37,715.2 L470.17,715.2 L470.97,715.2 L471.77,715.2 L472.57,715.2 L473.37,715.2 L474.17,715.2 L474.97,715.2 L475.77,715.2 L476.57,715.2 L477.37,715.2 L478.17,715.2 L478.97,715.2 L479.77,715.2 L480.57,715.2 L481.37,715.2 L482.17,715.2 L482.96,715.2 L483.76,715.2 L484.56,715.2 L485.36,715.2 L486.16,715.2 L486.96,715.2 L487.76,715.2 L488.56,715.2 L489.36,715.2 L490.16,715.2 L490.96,715.2 L491.76,715.2 L492.56,715.2 L493.36,715.2 L494.16,715.2 L494.96,715.2 L495.76,715.2 L496.56,715.2 L497.35,715.2 L498.15,715.2 L498.95,715.2 L499.75,715.2 L500.55,715.2 L501.35,715.2 L502.15,715.2 L502.95,715.2 L503.75,715.2 L504.55,715.2 L505.35,715.2 L506.15,715.2 L506.95,715.2 L507.75,715.2 L508.55,715.2 L509.35,715.2 L510.15,715.2 L510.95,715.2 L511.74,715.2 L512.54,715.2 L513.34,715.2 L514.14,715.2 L514.94,715.2 L515.74,715.2 L516.54,715.2 L517.34,715.2 L518.14,715.2 L518.14,715.2 L39.28,715.2 Z" fill="url(#hg)"/>
<path d="M39.28,715.2 L40.08,715.2 L40.88,715.2 L41.68,715.2 L42.48,715.2 L43.28,715.2 L44.08,715.2 L44.88,715.2 L45.68,715.2 L46.47,715.2 L47.27,715.2 L48.07,715.2 L48.87,715.2 L49.67,715.2 L50.47,715.2 L51.27,715.2 L52.07,715.2 L52.87,715.2 L53.67,715.2 L54.47,715.2 L55.27,715.2 L56.07,715.2 L56.87,715.2 L57.67,715.2 L58.47,715.2 L59.27,715.2 L60.07,715.2 L60.86,715.2 L61.66,715.2 L62.46,715.2 L63.26,715.2 L64.06,715.2 L64.86,715.2 L65.66,715.2 L66.46,715.2 L67.26,715.2 L68.06,715.2 L68.86,715.2 L69.66,715.2 L70.46,715.2 L71.26,715.2 L72.06,715.2 L72.86,715.2 L73.66,715.2 L74.46,715.2 L75.25,715.2 L76.05,715.2 L76.85,715.2 L77.65,715.2 L78.45,715.2 L79.25,715.2 L80.05,715.2 L80.85,715.2 L81.65,715.2 L82.45,715.2 L83.25,715.2 L84.05,715.2 L84.85,715.2 L85.65,715.2 L86.45,715.2 L87.25,715.2 L88.05,715.2 L88.84,715.2 L89.64,715.2 L90.44,715.2 L91.24,715.2 L92.04,715.2 L92.84,715.2 L93.64,715.2 L94.44,715.2 L95.24,715.2 L96.04,715.2 L96.84,715.2 L97.64,715.2 L98.44,715.2 L99.24,715.2 L100.04,715.2 L100.84,715.2 L101.64,715.2 L102.44,715.2 L103.23,715.2 L104.03,715.2 L104.83,715.2 L105.63,715.2 L106.43,715.2 L107.23,715.2 L108.03,715.2 L108.83,715.2 L109.63,715.2 L110.43,715.2 L111.23,715.2 L112.03,715.2 L112.83,715.2 L113.63,715.2 L114.43,715.2 L115.23,715.2 L116.03,715.2 L116.82,715.2 L117.62,715.2 L118.42,715.2 L119.22,715.2 L120.02,715.2 L120.82,715.2 L121.62,715.2 L122.42,715.2 L123.22,715.2 L124.02,715.2 L124.82,715.2 L125.62,715.2 L126.42,715.2 L127.22,715.2 L128.02,715.2 L128.82,715.2 L129.62,715.2 L130.42,715.2 L131.21,715.2 L132.01,715.2 L132.81,715.2 L133.61,715.2 L134.41,715.2 L135.21,715.2 L136.01,715.2 L136.81,715.2 L137.61,715.2 L138.41,715.2 L139.21,715.2 L140.01,715.2 L140.81,715.2 L141.61,715.2 L142.41,715.2 L143.21,715.2 L144.01,715.2 L144.81,715.2 L145.6,715.2 L146.4,715.2 L147.2,715.2 L148,715.2 L148.8,715.2 L149.6,715.2 L150.4,715.2 L151.2,715.2 L152,715.2 L152.8,715.2 L153.6,715.2 L154.4,715.2 L155.2,715.2 L156,715.2 L156.8,715.2 L157.6,715.2 L158.4,715.2 L159.19,715.2 L159.99,715.2 L160.79,715.2 L161.59,715.2 L162.39,715.2 L163.19,715.2 L163.99,715.2 L164.79,715.2 L165.59,715.2 L166.39,715.2 L167.19,715.2 L167.99,715.2 L168.79,715.2 L169.59,715.2 L170.39,715.2 L171.19,715.2 L171.99,715.2 L172.79,715.2 L173.58,715.2 L174.38,715.2 L175.18,715.2 L175.98,715.2 L176.78,715.2 L177.58,715.2 L178.38,715.2 L179.18,715.2 L179.98,715.2 L180.78,715.2 L181.58,715.2 L182.38,715.2 L183.18,715.2 L183.98,715.2 L184.78,715.2 L185.58,715.2 L186.38,715.2 L187.17,715.2 L187.97,715.2 L188.77,715.2 L189.57,715.2 L190.37,715.2 L191.17,715.2 L191.97,715.2 L192.77,715.2 L193.57,715.2 L194.37,715.2 L195.17,715.2 L195.97,715.2 L196.77,715.2 L197.57,715.2 L198.37,715.2 L199.17,715.2 L199.97,715.2 L200.77,715.2 L201.56,715.2 L202.36,715.2 L203.16,715.2 L203.96,715.2 L204.76,715.2 L205.56,715.2 L206.36,715.2 L207.16,715.2 L207.96,715.2 L208.76,715.2 L209.56,715.2 L210.36,715.2 L211.16,715.2 L211.96,715.2 L212.76,715.2 L213.56,715.2 L214.36,715.2 L215.16,715.2 L215.95,715.2 L216.75,715.2 L217.55,715.2 L218.35,715.2 L219.15,715.2 L219.95,715.2 L220.75,715.2 L221.55,715.2 L222.35,715.2 L223.15,715.2 L223.95,715.2 L224.75,715.2 L225.55,715.2 L226.35,715.2 L227.15,715.2 L227.95,715.2 L228.75,715.2 L229.54,715.2 L230.34,715.2 L231.14,715.2 L231.94,715.2 L232.74,715.2 L233.54,715.2 L234.34,715.2 L235.14,715.2 L235.94,715.2 L236.74,715.2 L237.54,715.2 L238.34,715.2 L239.14,715.2 L239.94,715.2 L240.74,715.2 L241.54,715.2 L242.34,715.2 L243.14,715.2 L243.93,715.2 L244.73,715.2 L245.53,715.2 L246.33,715.2 L247.13,715.2 L247.93,715.2 L248.73,715.2 L249.53,715.2 L250.33,715.2 L251.13,715.2 L251.93,715.2 L252.73,715.2 L253.53,715.2 L254.33,715.2 L255.13,715.2 L255.93,715.2 L256.73,715.2 L257.53,715.2 L258.32,715.2 L259.12,715.2 L259.92,715.2 L260.72,715.2 L261.52,715.2 L262.32,715.2 L263.12,715.2 L263.92,715.2 L264.72,715.2 L265.52,715.2 L266.32,715.2 L267.12,715.2 L267.92,715.2 L268.72,715.2 L269.52,715.2 L270.32,715.2 L271.12,715.2 L271.91,715.2 L272.71,715.2 L273.51,715.2 L274.31,715.2 L275.11,715.2 L275.91,715.2 L276.71,715.2 L277.51,715.2 L278.31,715.2 L279.11,715.2 L279.91,715.2 L280.71,715.2 L281.51,715.2 L282.31,715.2 L283.11,715.2 L283.91,715.2 L284.71,715.2 L285.51,715.2 L286.3,715.2 L287.1,715.2 L287.9,715.2 L288.7,715.2 L289.5,715.2 L290.3,715.2 L291.1,715.2 L291.9,715.2 L292.7,715.2 L293.5,715.2 L294.3,715.2 L295.1,715.2 L295.9,715.2 L296.7,715.2 L297.5,715.2 L298.3,715.2 L299.1,715.2 L299.89,715.2 L300.69,715.2 L301.49,715.2 L302.29,715.2 L303.09,715.2 L303.89,715.2 L304.69,715.2 L305.49,715.2 L306.29,715.2 L307.09,715.2 L307.89,715.2 L308.69,715.2 L309.49,715.2 L310.29,715.2 L311.09,715.2 L311.89,715.2 L312.69,715.2 L313.49,715.2 L314.28,715.2 L315.08,715.2 L315.88,715.2 L316.68,715.2 L317.48,715.2 L318.28,715.2 L319.08,715.2 L319.88,715.2 L320.68,715.2 L321.48,715.2 L322.28,715.2 L323.08,715.2 L323.88,715.2 L324.68,715.2 L325.48,715.2 L326.28,715.2 L327.08,715.2 L327.88,715.2 L328.67,715.2 L329.47,715.2 L330.27,715.2 L331.07,715.2 L331.87,715.2 L332.67,715.2 L333.47,715.2 L334.27,715.2 L335.07,715.2 L335.87,715.2 L336.67,715.2 L337.47,715.2 L338.27,715.2 L339.07,715.2 L339.87,715.2 L340.67,715.2 L341.47,715.2 L342.26,715.2 L343.06,715.2 L343.86,715.19 L344.66,715.19 L345.46,715.19 L346.26,715.19 L347.06,715.19 L347.86,715.19 L348.66,715.19 L349.46,715.18 L350.26,715.18 L351.06,715.18 L351.86,715.18 L352.66,715.17 L353.46,715.17 L354.26,715.17 L355.06,715.16 L355.86,715.16 L356.65,715.15 L357.45,715.14 L358.25,715.14 L359.05,715.13 L359.85,715.12 L360.65,715.11 L361.45,715.1 L362.25,715.08 L363.05,715.07 L363.85,715.05 L364.65,715.04 L365.45,715.02 L366.25,715 L367.05,714.97 L367.85,714.95 L368.65,714.92 L369.45,714.89 L370.25,714.85 L371.04,714.82 L371.84,714.78 L372.64,714.73 L373.44,714.69 L374.24,714.64 L375.04,714.58 L375.84,714.52 L376.64,714.45 L377.44,714.38 L378.24,714.31 L379.04,714.23 L379.84,714.14 L380.64,714.05 L381.44,713.95 L382.24,713.84 L383.04,713.73 L383.84,713.6 L384.63,713.48 L385.43,713.34 L386.23,713.19 L387.03,713.04 L387.83,712.88 L388.63,712.71 L389.43,712.53 L390.23,712.34 L391.03,712.14 L391.83,711.93 L392.63,711.72 L393.43,711.49 L394.23,711.26 L395.03,711.01 L395.83,710.76 L396.63,710.5 L397.43,710.22 L398.23,709.95 L399.02,709.66 L399.82,709.36 L400.62,709.06 L401.42,708.75 L402.22,708.44 L403.02,708.11 L403.82,707.79 L404.62,707.46 L405.42,707.12 L406.22,706.78 L407.02,706.44 L407.82,706.1 L408.62,705.76 L409.42,705.42 L410.22,705.08 L411.02,704.74 L411.82,704.4 L412.61,704.07 L413.41,703.75 L414.21,703.43 L415.01,703.12 L415.81,702.82 L416.61,702.53 L417.41,702.25 L418.21,701.98 L419.01,701.72 L419.81,701.48 L420.61,701.25 L421.41,701.04 L422.21,700.85 L423.01,700.67 L423.81,700.51 L424.61,700.36 L425.41,700.24 L426.21,700.14 L427,700.05 L427.8,699.99 L428.6,699.95 L429.4,699.92 L430.2,699.92 L431,699.94 L431.8,699.98 L432.6,700.04 L433.4,700.12 L434.2,700.22 L435,700.34 L435.8,700.48 L436.6,700.64 L437.4,700.82 L438.2,701.01 L439,701.22 L439.8,701.45 L440.6,701.69 L441.39,701.94 L442.19,702.21 L442.99,702.49 L443.79,702.78 L444.59,703.08 L445.39,703.38 L446.19,703.7 L446.99,704.02 L447.79,704.35 L448.59,704.69 L449.39,705.02 L450.19,705.36 L450.99,705.71 L451.79,706.05 L452.59,706.39 L453.39,706.73 L454.19,707.07 L454.98,707.4 L455.78,707.74 L456.58,708.06 L457.38,708.39 L458.18,708.7 L458.98,709.01 L459.78,709.32 L460.58,709.61 L461.38,709.9 L462.18,710.18 L462.98,710.46 L463.78,710.72 L464.58,710.97 L465.38,711.22 L466.18,711.46 L466.98,711.68 L467.78,711.9 L468.58,712.11 L469.37,712.31 L470.17,712.5 L470.97,712.68 L471.77,712.85 L472.57,713.02 L473.37,713.17 L474.17,713.32 L474.97,713.46 L475.77,713.59 L476.57,713.71 L477.37,713.82 L478.17,713.93 L478.97,714.03 L479.77,714.13 L480.57,714.22 L481.37,714.3 L482.17,714.37 L482.96,714.44 L483.76,714.51 L484.56,714.57 L485.36,714.63 L486.16,714.68 L486.96,714.73 L487.76,714.77 L488.56,714.81 L489.36,714.85 L490.16,714.88 L490.96,714.91 L491.76,714.94 L492.56,714.97 L493.36,714.99 L494.16,715.01 L494.96,715.03 L495.76,715.05 L496.56,715.07 L497.35,715.08 L498.15,715.09 L498.95,715.11 L499.75,715.12 L500.55,715.13 L501.35,715.13 L502.15,715.14 L502.95,715.15 L503.75,715.15 L504.55,715.16 L505.35,715.16 L506.15,715.17 L506.95,715.17 L507.75,715.18 L508.55,715.18 L509.35,715.18 L510.15,715.18 L510.95,715.19 L511.74,715.19 L512.54,715.19 L513.34,715.19 L514.14,715.19 L514.94,715.19 L515.74,715.19 L516.54,715.19 L517.34,715.2 L518.14,715.2 L518.14,715.2 L39.28,715.2 Z" fill="url(#hb)"/>
<line x1="197.51" y1="402" x2="197.51" y2="730.8" stroke="#909090" stroke-width="0.95" stroke-dasharray="2.6 2.2"/>
<line x1="301.61" y1="379" x2="301.61" y2="730.8" stroke="#909090" stroke-width="0.95" stroke-dasharray="2.6 2.2"/>
<polyline points="37.97,715.13 41.7,716.6 44.3,716.6 47.8,714 50,715.5 52.1,716.6 54.7,717.5 57.3,719.2 59.5,718 61.6,717.2 64.2,713.2 66.8,711.4 69.4,715.8 72,708 74.6,710.2 77.2,712.3 78.9,717.8 81.5,712.3 84.1,712.8 86.3,714 88.5,713.2 90.2,714.5 91.9,715.8 93.6,716 95.4,716.6 98,716.6 99.7,712 101.4,708 104,708.5 106.2,707.5 108.4,706.8 111,708 112.7,707.5 114.4,707.1 116.5,706 118.7,705 120.5,703.5 122.2,702.3 124.92,702 128.2,702.91 130.74,696.65 132.66,690.87 133.39,691.49 135.05,689.1 139.24,678.1 140.62,671.81 144.48,659.86 148.62,663.78 149.06,651.21 151.26,642.06 154.63,636.5 156.4,612.96 158.63,597.36 162.56,592.42 165.68,563.23 166.92,552.6 169.41,539.25 172.05,526.28 173.21,507.33 174.97,512.47 179.61,483 180.99,470.95 183.25,481.16 184.8,451.7 187.1,457.8 189,446 191.1,435.9 193.1,416.3 195.1,444.8 197.3,438.7 199.4,435.9 201.4,424 203.7,435.9 205.5,444 207.6,449.5 209.9,456.3 212.23,472.67 212.63,469.54 217.92,485.86 218.66,505.38 221.68,512.18 225.35,521.05 225.44,530.96 228.81,569.94 232.82,564.78 233.55,580.14 237.08,595.36 241.05,611.56 242.34,605.9 243.89,629.4 246.01,624.31 248.98,624.7 251.6,645.08 253.67,639.14 256.85,645.24 257.96,635 261.49,624.97 263.84,618.08 266.09,636.38 270.19,623.41 272.34,608.89 272.6,596.07 276.29,596.26 279.41,596.71 281.28,582.12 284.6,577.18 286.34,571.88 289.79,569.82 291.34,556.4 295.29,552.82 295.69,552.82 299.63,552 303.19,559.56 304.33,554.25 306.98,543.52 308.95,557.39 312.75,571.16 312.98,568.8 313.71,556.3 320.38,565.08 321.26,587.56 324.41,599.62 326.4,614.85 330.91,605.91 332.74,607.5 333.63,637.15 336.63,644.61 337.45,645.85 342.29,661.4 343.67,672.76 343.91,665.68 349.85,676.32 352.48,677.89 354.11,687.66 356.62,688.38 358.23,697.6 361.44,698.05 364.83,709.72 366.36,709.41 366.43,703.8 370.3,709.87 376.71,708.62 376.85,707.5 379.94,707.1 380.94,709.07 384.23,708.75 384.63,711.95 388.13,713.46 390.66,713.26 393.87,712.1 396.59,713.42 398.71,710.98 400.25,708.75 403.51,706.71 406.9,707.63 407.77,711.93 411.35,704.7 414.12,702.67 417.33,698.68 419.6,699.62 422.17,703.33 425.52,692.68 426.82,703.11 428.46,697.13 431.74,693.2 432.98,692.36 436.09,703.62 438.65,699.83 444,700.34 444.25,700.89 445.99,701.96 447.41,704.18 449.68,705.35 452.59,711.86 457.67,708.56 460.94,709.57 461.21,711.32 463.98,712.15 465.54,709.81 469.13,709.97 471.28,711.97 475.5,712.47 476.05,713.46 479.44,715.14 481.15,714.7 483.54,715.69 486.61,713.81 488.68,714.8 491.5,713.65 493.23,717.9 495.99,713.16 499.53,716.72 502.07,716.68 502.24,715.57 506.58,716.33 507.99,714.58 511.08,716.36 514.54,717.36 517.22,716.9" fill="none" stroke="#7a7a7a" stroke-width="0.9"/>
<path d="M39.28,715.2 L40.08,715.2 L40.88,715.2 L41.68,715.2 L42.48,715.2 L43.28,715.2 L44.08,715.2 L44.88,715.2 L45.68,715.2 L46.47,715.2 L47.27,715.2 L48.07,715.2 L48.87,715.2 L49.67,715.2 L50.47,715.2 L51.27,715.2 L52.07,715.2 L52.87,715.2 L53.67,715.2 L54.47,715.2 L55.27,715.2 L56.07,715.2 L56.87,715.2 L57.67,715.2 L58.47,715.2 L59.27,715.2 L60.07,715.2 L60.86,715.2 L61.66,715.2 L62.46,715.2 L63.26,715.19 L64.06,715.19 L64.86,715.19 L65.66,715.19 L66.46,715.19 L67.26,715.19 L68.06,715.19 L68.86,715.19 L69.66,715.19 L70.46,715.18 L71.26,715.18 L72.06,715.18 L72.86,715.18 L73.66,715.17 L74.46,715.17 L75.25,715.17 L76.05,715.16 L76.85,715.16 L77.65,715.15 L78.45,715.15 L79.25,715.14 L80.05,715.13 L80.85,715.13 L81.65,715.12 L82.45,715.11 L83.25,715.1 L84.05,715.09 L84.85,715.07 L85.65,715.06 L86.45,715.04 L87.25,715.02 L88.05,715 L88.84,714.98 L89.64,714.96 L90.44,714.93 L91.24,714.9 L92.04,714.87 L92.84,714.84 L93.64,714.8 L94.44,714.75 L95.24,714.71 L96.04,714.66 L96.84,714.6 L97.64,714.54 L98.44,714.47 L99.24,714.4 L100.04,714.32 L100.84,714.23 L101.64,714.14 L102.44,714.03 L103.23,713.92 L104.03,713.8 L104.83,713.67 L105.63,713.53 L106.43,713.37 L107.23,713.2 L108.03,713.02 L108.83,712.83 L109.63,712.61 L110.43,712.39 L111.23,712.14 L112.03,711.87 L112.83,711.59 L113.63,711.28 L114.43,710.95 L115.23,710.6 L116.03,710.22 L116.82,709.81 L117.62,709.37 L118.42,708.91 L119.22,708.41 L120.02,707.88 L120.82,707.31 L121.62,706.7 L122.42,706.06 L123.22,705.37 L124.02,704.65 L124.82,703.87 L125.62,703.05 L126.42,702.18 L127.22,701.26 L128.02,700.28 L128.82,699.25 L129.62,698.16 L130.42,697 L131.21,695.79 L132.01,694.51 L132.81,693.17 L133.61,691.75 L134.41,690.26 L135.21,688.7 L136.01,687.06 L136.81,685.35 L137.61,683.55 L138.41,681.68 L139.21,679.72 L140.01,677.67 L140.81,675.54 L141.61,673.31 L142.41,671 L143.21,668.59 L144.01,666.1 L144.81,663.51 L145.6,660.82 L146.4,658.04 L147.2,655.16 L148,652.19 L148.8,649.12 L149.6,645.95 L150.4,642.69 L151.2,639.34 L152,635.89 L152.8,632.35 L153.6,628.71 L154.4,624.99 L155.2,621.18 L156,617.29 L156.8,613.31 L157.6,609.25 L158.4,605.12 L159.19,600.92 L159.99,596.64 L160.79,592.3 L161.59,587.9 L162.39,583.45 L163.19,578.94 L163.99,574.39 L164.79,569.8 L165.59,565.18 L166.39,560.53 L167.19,555.86 L167.99,551.17 L168.79,546.48 L169.59,541.79 L170.39,537.1 L171.19,532.43 L171.99,527.79 L172.79,523.17 L173.58,518.59 L174.38,514.06 L175.18,509.58 L175.98,505.17 L176.78,500.83 L177.58,496.56 L178.38,492.39 L179.18,488.31 L179.98,484.33 L180.78,480.47 L181.58,476.73 L182.38,473.11 L183.18,469.63 L183.98,466.29 L184.78,463.1 L185.58,460.07 L186.38,457.2 L187.17,454.5 L187.97,451.98 L188.77,449.63 L189.57,447.47 L190.37,445.51 L191.17,443.73 L191.97,442.16 L192.77,440.79 L193.57,439.63 L194.37,438.67 L195.17,437.92 L195.97,437.39 L196.77,437.07 L197.57,436.96 L198.37,437.07 L199.17,437.39 L199.97,437.92 L200.77,438.66 L201.56,439.62 L202.36,440.77 L203.16,442.14 L203.96,443.7 L204.76,445.46 L205.56,447.41 L206.36,449.54 L207.16,451.86 L207.96,454.36 L208.76,457.02 L209.56,459.85 L210.36,462.83 L211.16,465.97 L211.96,469.25 L212.76,472.66 L213.56,476.2 L214.36,479.86 L215.16,483.63 L215.95,487.5 L216.75,491.46 L217.55,495.51 L218.35,499.64 L219.15,503.83 L219.95,508.07 L220.75,512.37 L221.55,516.7 L222.35,521.07 L223.15,525.45 L223.95,529.85 L224.75,534.25 L225.55,538.65 L226.35,543.03 L227.15,547.39 L227.95,551.71 L228.75,556 L229.54,560.24 L230.34,564.43 L231.14,568.55 L231.94,572.61 L232.74,576.58 L233.54,580.48 L234.34,584.28 L235.14,587.99 L235.94,591.59 L236.74,595.09 L237.54,598.47 L238.34,601.74 L239.14,604.89 L239.94,607.9 L240.74,610.79 L241.54,613.54 L242.34,616.15 L243.14,618.63 L243.93,620.96 L244.73,623.14 L245.53,625.17 L246.33,627.05 L247.13,628.78 L247.93,630.36 L248.73,631.79 L249.53,633.06 L250.33,634.17 L251.13,635.13 L251.93,635.94 L252.73,636.59 L253.53,637.09 L254.33,637.43 L255.13,637.63 L255.93,637.68 L256.73,637.59 L257.53,637.35 L258.32,636.96 L259.12,636.44 L259.92,635.79 L260.72,635 L261.52,634.09 L262.32,633.05 L263.12,631.89 L263.92,630.62 L264.72,629.23 L265.52,627.74 L266.32,626.15 L267.12,624.46 L267.92,622.68 L268.72,620.81 L269.52,618.87 L270.32,616.85 L271.12,614.77 L271.91,612.62 L272.71,610.42 L273.51,608.17 L274.31,605.88 L275.11,603.56 L275.91,601.21 L276.71,598.83 L277.51,596.44 L278.31,594.05 L279.11,591.65 L279.91,589.26 L280.71,586.89 L281.51,584.53 L282.31,582.21 L283.11,579.91 L283.91,577.66 L284.71,575.46 L285.51,573.3 L286.3,571.21 L287.1,569.19 L287.9,567.24 L288.7,565.36 L289.5,563.57 L290.3,561.87 L291.1,560.27 L291.9,558.76 L292.7,557.35 L293.5,556.06 L294.3,554.88 L295.1,553.81 L295.9,552.86 L296.7,552.04 L297.5,551.34 L298.3,550.76 L299.1,550.32 L299.89,550.01 L300.69,549.83 L301.49,549.78 L302.29,549.87 L303.09,550.09 L303.89,550.44 L304.69,550.93 L305.49,551.55 L306.29,552.3 L307.09,553.18 L307.89,554.19 L308.69,555.32 L309.49,556.58 L310.29,557.95 L311.09,559.45 L311.89,561.05 L312.69,562.77 L313.49,564.59 L314.28,566.51 L315.08,568.53 L315.88,570.64 L316.68,572.84 L317.48,575.13 L318.28,577.49 L319.08,579.92 L319.88,582.42 L320.68,584.98 L321.48,587.6 L322.28,590.27 L323.08,592.99 L323.88,595.74 L324.68,598.53 L325.48,601.36 L326.28,604.2 L327.08,607.07 L327.88,609.94 L328.67,612.83 L329.47,615.72 L330.27,618.61 L331.07,621.49 L331.87,624.36 L332.67,627.22 L333.47,630.06 L334.27,632.88 L335.07,635.67 L335.87,638.43 L336.67,641.15 L337.47,643.84 L338.27,646.48 L339.07,649.09 L339.87,651.65 L340.67,654.16 L341.47,656.62 L342.26,659.02 L343.06,661.38 L343.86,663.67 L344.66,665.91 L345.46,668.09 L346.26,670.22 L347.06,672.28 L347.86,674.28 L348.66,676.22 L349.46,678.1 L350.26,679.92 L351.06,681.67 L351.86,683.37 L352.66,685 L353.46,686.57 L354.26,688.08 L355.06,689.54 L355.86,690.93 L356.65,692.26 L357.45,693.54 L358.25,694.77 L359.05,695.93 L359.85,697.05 L360.65,698.11 L361.45,699.12 L362.25,700.08 L363.05,700.99 L363.85,701.85 L364.65,702.67 L365.45,703.44 L366.25,704.17 L367.05,704.86 L367.85,705.5 L368.65,706.11 L369.45,706.68 L370.25,707.21 L371.04,707.7 L371.84,708.16 L372.64,708.59 L373.44,708.98 L374.24,709.34 L375.04,709.68 L375.84,709.98 L376.64,710.25 L377.44,710.5 L378.24,710.72 L379.04,710.92 L379.84,711.09 L380.64,711.24 L381.44,711.36 L382.24,711.46 L383.04,711.54 L383.84,711.6 L384.63,711.63 L385.43,711.65 L386.23,711.65 L387.03,711.62 L387.83,711.58 L388.63,711.52 L389.43,711.45 L390.23,711.35 L391.03,711.24 L391.83,711.12 L392.63,710.97 L393.43,710.81 L394.23,710.64 L395.03,710.45 L395.83,710.25 L396.63,710.04 L397.43,709.81 L398.23,709.57 L399.02,709.32 L399.82,709.06 L400.62,708.78 L401.42,708.5 L402.22,708.21 L403.02,707.91 L403.82,707.61 L404.62,707.29 L405.42,706.97 L406.22,706.65 L407.02,706.32 L407.82,705.99 L408.62,705.66 L409.42,705.33 L410.22,705 L411.02,704.67 L411.82,704.34 L412.61,704.02 L413.41,703.7 L414.21,703.39 L415.01,703.08 L415.81,702.79 L416.61,702.5 L417.41,702.22 L418.21,701.96 L419.01,701.7 L419.81,701.46 L420.61,701.24 L421.41,701.03 L422.21,700.83 L423.01,700.66 L423.81,700.5 L424.61,700.36 L425.41,700.23 L426.21,700.13 L427,700.05 L427.8,699.98 L428.6,699.94 L429.4,699.92 L430.2,699.92 L431,699.94 L431.8,699.98 L432.6,700.04 L433.4,700.12 L434.2,700.22 L435,700.34 L435.8,700.48 L436.6,700.64 L437.4,700.82 L438.2,701.01 L439,701.22 L439.8,701.45 L440.6,701.69 L441.39,701.94 L442.19,702.21 L442.99,702.49 L443.79,702.78 L444.59,703.08 L445.39,703.38 L446.19,703.7 L446.99,704.02 L447.79,704.35 L448.59,704.69 L449.39,705.02 L450.19,705.36 L450.99,705.71 L451.79,706.05 L452.59,706.39 L453.39,706.73 L454.19,707.07 L454.98,707.4 L455.78,707.74 L456.58,708.06 L457.38,708.39 L458.18,708.7 L458.98,709.01 L459.78,709.32 L460.58,709.61 L461.38,709.9 L462.18,710.18 L462.98,710.46 L463.78,710.72 L464.58,710.97 L465.38,711.22 L466.18,711.46 L466.98,711.68 L467.78,711.9 L468.58,712.11 L469.37,712.31 L470.17,712.5 L470.97,712.68 L471.77,712.85 L472.57,713.02 L473.37,713.17 L474.17,713.32 L474.97,713.46 L475.77,713.59 L476.57,713.71 L477.37,713.82 L478.17,713.93 L478.97,714.03 L479.77,714.13 L480.57,714.22 L481.37,714.3 L482.17,714.37 L482.96,714.44 L483.76,714.51 L484.56,714.57 L485.36,714.63 L486.16,714.68 L486.96,714.73 L487.76,714.77 L488.56,714.81 L489.36,714.85 L490.16,714.88 L490.96,714.91 L491.76,714.94 L492.56,714.97 L493.36,714.99 L494.16,715.01 L494.96,715.03 L495.76,715.05 L496.56,715.07 L497.35,715.08 L498.15,715.09 L498.95,715.11 L499.75,715.12 L500.55,715.13 L501.35,715.13 L502.15,715.14 L502.95,715.15 L503.75,715.15 L504.55,715.16 L505.35,715.16 L506.15,715.17 L506.95,715.17 L507.75,715.18 L508.55,715.18 L509.35,715.18 L510.15,715.18 L510.95,715.19 L511.74,715.19 L512.54,715.19 L513.34,715.19 L514.14,715.19 L514.94,715.19 L515.74,715.19 L516.54,715.19 L517.34,715.2 L518.14,715.2" fill="none" stroke="#f07a30" stroke-width="2.15"/>
<path d="M39.28,715.2 L40.08,715.2 L40.88,715.2 L41.68,715.2 L42.48,715.2 L43.28,715.2 L44.08,715.2 L44.88,715.2 L45.68,715.2 L46.47,715.2 L47.27,715.2 L48.07,715.2 L48.87,715.2 L49.67,715.2 L50.47,715.2 L51.27,715.2 L52.07,715.2 L52.87,715.2 L53.67,715.2 L54.47,715.2 L55.27,715.2 L56.07,715.2 L56.87,715.2 L57.67,715.2 L58.47,715.2 L59.27,715.2 L60.07,715.2 L60.86,715.2 L61.66,715.2 L62.46,715.2 L63.26,715.2 L64.06,715.2 L64.86,715.2 L65.66,715.2 L66.46,715.2 L67.26,715.2 L68.06,715.2 L68.86,715.2 L69.66,715.2 L70.46,715.2 L71.26,715.2 L72.06,715.2 L72.86,715.2 L73.66,715.2 L74.46,715.2 L75.25,715.2 L76.05,715.2 L76.85,715.2 L77.65,715.2 L78.45,715.2 L79.25,715.2 L80.05,715.2 L80.85,715.2 L81.65,715.2 L82.45,715.2 L83.25,715.2 L84.05,715.2 L84.85,715.2 L85.65,715.2 L86.45,715.2 L87.25,715.2 L88.05,715.2 L88.84,715.2 L89.64,715.2 L90.44,715.2 L91.24,715.2 L92.04,715.2 L92.84,715.2 L93.64,715.2 L94.44,715.2 L95.24,715.2 L96.04,715.2 L96.84,715.2 L97.64,715.2 L98.44,715.2 L99.24,715.2 L100.04,715.2 L100.84,715.2 L101.64,715.2 L102.44,715.2 L103.23,715.2 L104.03,715.2 L104.83,715.2 L105.63,715.2 L106.43,715.2 L107.23,715.2 L108.03,715.2 L108.83,715.2 L109.63,715.2 L110.43,715.2 L111.23,715.2 L112.03,715.2 L112.83,715.2 L113.63,715.2 L114.43,715.2 L115.23,715.2 L116.03,715.2 L116.82,715.2 L117.62,715.2 L118.42,715.2 L119.22,715.2 L120.02,715.2 L120.82,715.2 L121.62,715.2 L122.42,715.2 L123.22,715.2 L124.02,715.2 L124.82,715.2 L125.62,715.2 L126.42,715.2 L127.22,715.2 L128.02,715.2 L128.82,715.2 L129.62,715.2 L130.42,715.2 L131.21,715.2 L132.01,715.2 L132.81,715.2 L133.61,715.2 L134.41,715.2 L135.21,715.2 L136.01,715.2 L136.81,715.2 L137.61,715.2 L138.41,715.2 L139.21,715.2 L140.01,715.2 L140.81,715.2 L141.61,715.2 L142.41,715.2 L143.21,715.2 L144.01,715.2 L144.81,715.2 L145.6,715.2 L146.4,715.2 L147.2,715.2 L148,715.2 L148.8,715.2 L149.6,715.2 L150.4,715.2 L151.2,715.2 L152,715.2 L152.8,715.2 L153.6,715.2 L154.4,715.2 L155.2,715.2 L156,715.2 L156.8,715.2 L157.6,715.2 L158.4,715.2 L159.19,715.2 L159.99,715.2 L160.79,715.2 L161.59,715.2 L162.39,715.2 L163.19,715.2 L163.99,715.2 L164.79,715.2 L165.59,715.2 L166.39,715.2 L167.19,715.2 L167.99,715.2 L168.79,715.2 L169.59,715.2 L170.39,715.2 L171.19,715.2 L171.99,715.2 L172.79,715.2 L173.58,715.2 L174.38,715.2 L175.18,715.2 L175.98,715.19 L176.78,715.19 L177.58,715.19 L178.38,715.19 L179.18,715.19 L179.98,715.19 L180.78,715.19 L181.58,715.19 L182.38,715.18 L183.18,715.18 L183.98,715.18 L184.78,715.18 L185.58,715.17 L186.38,715.17 L187.17,715.17 L187.97,715.16 L188.77,715.16 L189.57,715.15 L190.37,715.15 L191.17,715.14 L191.97,715.13 L192.77,715.13 L193.57,715.12 L194.37,715.11 L195.17,715.1 L195.97,715.09 L196.77,715.07 L197.57,715.06 L198.37,715.04 L199.17,715.02 L199.97,715 L200.77,714.98 L201.56,714.96 L202.36,714.93 L203.16,714.9 L203.96,714.87 L204.76,714.84 L205.56,714.8 L206.36,714.76 L207.16,714.71 L207.96,714.66 L208.76,714.6 L209.56,714.54 L210.36,714.48 L211.16,714.4 L211.96,714.33 L212.76,714.24 L213.56,714.15 L214.36,714.05 L215.16,713.94 L215.95,713.82 L216.75,713.69 L217.55,713.55 L218.35,713.4 L219.15,713.24 L219.95,713.07 L220.75,712.88 L221.55,712.67 L222.35,712.46 L223.15,712.22 L223.95,711.97 L224.75,711.7 L225.55,711.41 L226.35,711.1 L227.15,710.76 L227.95,710.41 L228.75,710.03 L229.54,709.62 L230.34,709.19 L231.14,708.72 L231.94,708.23 L232.74,707.71 L233.54,707.16 L234.34,706.57 L235.14,705.95 L235.94,705.29 L236.74,704.59 L237.54,703.85 L238.34,703.07 L239.14,702.25 L239.94,701.39 L240.74,700.47 L241.54,699.52 L242.34,698.51 L243.14,697.45 L243.93,696.34 L244.73,695.18 L245.53,693.97 L246.33,692.7 L247.13,691.38 L247.93,689.99 L248.73,688.55 L249.53,687.06 L250.33,685.5 L251.13,683.88 L251.93,682.2 L252.73,680.46 L253.53,678.66 L254.33,676.8 L255.13,674.87 L255.93,672.89 L256.73,670.84 L257.53,668.74 L258.32,666.57 L259.12,664.35 L259.92,662.07 L260.72,659.73 L261.52,657.34 L262.32,654.89 L263.12,652.4 L263.92,649.85 L264.72,647.26 L265.52,644.63 L266.32,641.95 L267.12,639.24 L267.92,636.49 L268.72,633.71 L269.52,630.9 L270.32,628.07 L271.12,625.22 L271.91,622.35 L272.71,619.47 L273.51,616.58 L274.31,613.69 L275.11,610.8 L275.91,607.93 L276.71,605.06 L277.51,602.21 L278.31,599.38 L279.11,596.58 L279.91,593.82 L280.71,591.09 L281.51,588.41 L282.31,585.78 L283.11,583.2 L283.91,580.69 L284.71,578.24 L285.51,575.86 L286.3,573.56 L287.1,571.34 L287.9,569.21 L288.7,567.17 L289.5,565.23 L290.3,563.38 L291.1,561.65 L291.9,560.02 L292.7,558.51 L293.5,557.11 L294.3,555.83 L295.1,554.68 L295.9,553.65 L296.7,552.75 L297.5,551.99 L298.3,551.35 L299.1,550.86 L299.89,550.49 L300.69,550.27 L301.49,550.18 L302.29,550.23 L303.09,550.41 L303.89,550.73 L304.69,551.19 L305.49,551.79 L306.29,552.51 L307.09,553.37 L307.89,554.36 L308.69,555.48 L309.49,556.72 L310.29,558.08 L311.09,559.56 L311.89,561.15 L312.69,562.86 L313.49,564.67 L314.28,566.58 L315.08,568.6 L315.88,570.7 L316.68,572.89 L317.48,575.17 L318.28,577.53 L319.08,579.95 L319.88,582.45 L320.68,585.01 L321.48,587.63 L322.28,590.29 L323.08,593.01 L323.88,595.76 L324.68,598.55 L325.48,601.37 L326.28,604.21 L327.08,607.08 L327.88,609.95 L328.67,612.84 L329.47,615.73 L330.27,618.62 L331.07,621.5 L331.87,624.37 L332.67,627.23 L333.47,630.07 L334.27,632.88 L335.07,635.67 L335.87,638.43 L336.67,641.15 L337.47,643.84 L338.27,646.49 L339.07,649.09 L339.87,651.65 L340.67,654.16 L341.47,656.62 L342.26,659.03 L343.06,661.38 L343.86,663.68 L344.66,665.92 L345.46,668.1 L346.26,670.23 L347.06,672.29 L347.86,674.29 L348.66,676.23 L349.46,678.12 L350.26,679.93 L351.06,681.69 L351.86,683.39 L352.66,685.03 L353.46,686.6 L354.26,688.12 L355.06,689.57 L355.86,690.97 L356.65,692.32 L357.45,693.6 L358.25,694.83 L359.05,696.01 L359.85,697.13 L360.65,698.2 L361.45,699.22 L362.25,700.2 L363.05,701.12 L363.85,702 L364.65,702.83 L365.45,703.63 L366.25,704.38 L367.05,705.09 L367.85,705.76 L368.65,706.39 L369.45,706.99 L370.25,707.55 L371.04,708.08 L371.84,708.58 L372.64,709.05 L373.44,709.49 L374.24,709.91 L375.04,710.3 L375.84,710.66 L376.64,711 L377.44,711.32 L378.24,711.61 L379.04,711.89 L379.84,712.15 L380.64,712.39 L381.44,712.61 L382.24,712.82 L383.04,713.01 L383.84,713.19 L384.63,713.36 L385.43,713.51 L386.23,713.65 L387.03,713.78 L387.83,713.91 L388.63,714.02 L389.43,714.12 L390.23,714.21 L391.03,714.3 L391.83,714.38 L392.63,714.46 L393.43,714.52 L394.23,714.59 L395.03,714.64 L395.83,714.69 L396.63,714.74 L397.43,714.79 L398.23,714.82 L399.02,714.86 L399.82,714.89 L400.62,714.92 L401.42,714.95 L402.22,714.98 L403.02,715 L403.82,715.02 L404.62,715.04 L405.42,715.05 L406.22,715.07 L407.02,715.08 L407.82,715.09 L408.62,715.11 L409.42,715.12 L410.22,715.12 L411.02,715.13 L411.82,715.14 L412.61,715.15 L413.41,715.15 L414.21,715.16 L415.01,715.16 L415.81,715.17 L416.61,715.17 L417.41,715.17 L418.21,715.18 L419.01,715.18 L419.81,715.18 L420.61,715.18 L421.41,715.19 L422.21,715.19 L423.01,715.19 L423.81,715.19 L424.61,715.19 L425.41,715.19 L426.21,715.19 L427,715.19 L427.8,715.19 L428.6,715.2 L429.4,715.2 L430.2,715.2 L431,715.2 L431.8,715.2 L432.6,715.2 L433.4,715.2 L434.2,715.2 L435,715.2 L435.8,715.2 L436.6,715.2 L437.4,715.2 L438.2,715.2 L439,715.2 L439.8,715.2 L440.6,715.2 L441.39,715.2 L442.19,715.2 L442.99,715.2 L443.79,715.2 L444.59,715.2 L445.39,715.2 L446.19,715.2 L446.99,715.2 L447.79,715.2 L448.59,715.2 L449.39,715.2 L450.19,715.2 L450.99,715.2 L451.79,715.2 L452.59,715.2 L453.39,715.2 L454.19,715.2 L454.98,715.2 L455.78,715.2 L456.58,715.2 L457.38,715.2 L458.18,715.2 L458.98,715.2 L459.78,715.2 L460.58,715.2 L461.38,715.2 L462.18,715.2 L462.98,715.2 L463.78,715.2 L464.58,715.2 L465.38,715.2 L466.18,715.2 L466.98,715.2 L467.78,715.2 L468.58,715.2 L469.37,715.2 L470.17,715.2 L470.97,715.2 L471.77,715.2 L472.57,715.2 L473.37,715.2 L474.17,715.2 L474.97,715.2 L475.77,715.2 L476.57,715.2 L477.37,715.2 L478.17,715.2 L478.97,715.2 L479.77,715.2 L480.57,715.2 L481.37,715.2 L482.17,715.2 L482.96,715.2 L483.76,715.2 L484.56,715.2 L485.36,715.2 L486.16,715.2 L486.96,715.2 L487.76,715.2 L488.56,715.2 L489.36,715.2 L490.16,715.2 L490.96,715.2 L491.76,715.2 L492.56,715.2 L493.36,715.2 L494.16,715.2 L494.96,715.2 L495.76,715.2 L496.56,715.2 L497.35,715.2 L498.15,715.2 L498.95,715.2 L499.75,715.2 L500.55,715.2 L501.35,715.2 L502.15,715.2 L502.95,715.2 L503.75,715.2 L504.55,715.2 L505.35,715.2 L506.15,715.2 L506.95,715.2 L507.75,715.2 L508.55,715.2 L509.35,715.2 L510.15,715.2 L510.95,715.2 L511.74,715.2 L512.54,715.2 L513.34,715.2 L514.14,715.2 L514.94,715.2 L515.74,715.2 L516.54,715.2 L517.34,715.2 L518.14,715.2" fill="none" stroke="#78b832" stroke-width="2.15"/>
<path d="M39.28,715.2 L40.08,715.2 L40.88,715.2 L41.68,715.2 L42.48,715.2 L43.28,715.2 L44.08,715.2 L44.88,715.2 L45.68,715.2 L46.47,715.2 L47.27,715.2 L48.07,715.2 L48.87,715.2 L49.67,715.2 L50.47,715.2 L51.27,715.2 L52.07,715.2 L52.87,715.2 L53.67,715.2 L54.47,715.2 L55.27,715.2 L56.07,715.2 L56.87,715.2 L57.67,715.2 L58.47,715.2 L59.27,715.2 L60.07,715.2 L60.86,715.2 L61.66,715.2 L62.46,715.2 L63.26,715.19 L64.06,715.19 L64.86,715.19 L65.66,715.19 L66.46,715.19 L67.26,715.19 L68.06,715.19 L68.86,715.19 L69.66,715.19 L70.46,715.18 L71.26,715.18 L72.06,715.18 L72.86,715.18 L73.66,715.17 L74.46,715.17 L75.25,715.17 L76.05,715.16 L76.85,715.16 L77.65,715.15 L78.45,715.15 L79.25,715.14 L80.05,715.13 L80.85,715.13 L81.65,715.12 L82.45,715.11 L83.25,715.1 L84.05,715.09 L84.85,715.07 L85.65,715.06 L86.45,715.04 L87.25,715.02 L88.05,715 L88.84,714.98 L89.64,714.96 L90.44,714.93 L91.24,714.9 L92.04,714.87 L92.84,714.84 L93.64,714.8 L94.44,714.75 L95.24,714.71 L96.04,714.66 L96.84,714.6 L97.64,714.54 L98.44,714.47 L99.24,714.4 L100.04,714.32 L100.84,714.23 L101.64,714.14 L102.44,714.03 L103.23,713.92 L104.03,713.8 L104.83,713.67 L105.63,713.53 L106.43,713.37 L107.23,713.2 L108.03,713.02 L108.83,712.83 L109.63,712.61 L110.43,712.39 L111.23,712.14 L112.03,711.87 L112.83,711.59 L113.63,711.28 L114.43,710.95 L115.23,710.6 L116.03,710.22 L116.82,709.81 L117.62,709.37 L118.42,708.91 L119.22,708.41 L120.02,707.88 L120.82,707.31 L121.62,706.7 L122.42,706.06 L123.22,705.37 L124.02,704.65 L124.82,703.87 L125.62,703.05 L126.42,702.18 L127.22,701.26 L128.02,700.28 L128.82,699.25 L129.62,698.16 L130.42,697 L131.21,695.79 L132.01,694.51 L132.81,693.17 L133.61,691.75 L134.41,690.26 L135.21,688.7 L136.01,687.06 L136.81,685.35 L137.61,683.55 L138.41,681.68 L139.21,679.72 L140.01,677.67 L140.81,675.54 L141.61,673.31 L142.41,671 L143.21,668.59 L144.01,666.1 L144.81,663.51 L145.6,660.82 L146.4,658.04 L147.2,655.16 L148,652.19 L148.8,649.12 L149.6,645.95 L150.4,642.69 L151.2,639.34 L152,635.89 L152.8,632.35 L153.6,628.71 L154.4,624.99 L155.2,621.18 L156,617.29 L156.8,613.31 L157.6,609.25 L158.4,605.12 L159.19,600.92 L159.99,596.64 L160.79,592.3 L161.59,587.9 L162.39,583.45 L163.19,578.94 L163.99,574.39 L164.79,569.8 L165.59,565.18 L166.39,560.53 L167.19,555.86 L167.99,551.17 L168.79,546.48 L169.59,541.79 L170.39,537.1 L171.19,532.44 L171.99,527.79 L172.79,523.17 L173.58,518.59 L174.38,514.06 L175.18,509.59 L175.98,505.17 L176.78,500.83 L177.58,496.57 L178.38,492.4 L179.18,488.32 L179.98,484.34 L180.78,480.48 L181.58,476.74 L182.38,473.12 L183.18,469.65 L183.98,466.31 L184.78,463.12 L185.58,460.09 L186.38,457.23 L187.17,454.53 L187.97,452.01 L188.77,449.67 L189.57,447.52 L190.37,445.56 L191.17,443.79 L191.97,442.23 L192.77,440.86 L193.57,439.71 L194.37,438.76 L195.17,438.03 L195.97,437.5 L196.77,437.2 L197.57,437.1 L198.37,437.23 L199.17,437.56 L199.97,438.12 L200.77,438.88 L201.56,439.86 L202.36,441.04 L203.16,442.43 L203.96,444.03 L204.76,445.82 L205.56,447.81 L206.36,449.99 L207.16,452.35 L207.96,454.9 L208.76,457.62 L209.56,460.51 L210.36,463.56 L211.16,466.77 L211.96,470.12 L212.76,473.62 L213.56,477.25 L214.36,481.01 L215.16,484.89 L215.95,488.88 L216.75,492.97 L217.55,497.16 L218.35,501.43 L219.15,505.78 L219.95,510.21 L220.75,514.69 L221.55,519.23 L222.35,523.81 L223.15,528.43 L223.95,533.08 L224.75,537.76 L225.55,542.44 L226.35,547.13 L227.15,551.83 L227.95,556.51 L228.75,561.18 L229.54,565.82 L230.34,570.44 L231.14,575.03 L231.94,579.57 L232.74,584.07 L233.54,588.52 L234.34,592.91 L235.14,597.24 L235.94,601.5 L236.74,605.7 L237.54,609.82 L238.34,613.87 L239.14,617.83 L239.94,621.72 L240.74,625.52 L241.54,629.23 L242.34,632.85 L243.14,636.37 L243.93,639.81 L244.73,643.15 L245.53,646.4 L246.33,649.55 L247.13,652.61 L247.93,655.57 L248.73,658.43 L249.53,661.2 L250.33,663.87 L251.13,666.45 L251.93,668.93 L252.73,671.33 L253.53,673.63 L254.33,675.84 L255.13,677.96 L255.93,679.99 L256.73,681.94 L257.53,683.81 L258.32,685.59 L259.12,687.3 L259.92,688.92 L260.72,690.47 L261.52,691.95 L262.32,693.36 L263.12,694.69 L263.92,695.96 L264.72,697.17 L265.52,698.31 L266.32,699.39 L267.12,700.42 L267.92,701.39 L268.72,702.3 L269.52,703.17 L270.32,703.98 L271.12,704.75 L271.91,705.47 L272.71,706.15 L273.51,706.79 L274.31,707.39 L275.11,707.95 L275.91,708.48 L276.71,708.97 L277.51,709.44 L278.31,709.87 L279.11,710.27 L279.91,710.65 L280.71,711 L281.51,711.32 L282.31,711.63 L283.11,711.91 L283.91,712.17 L284.71,712.42 L285.51,712.64 L286.3,712.85 L287.1,713.05 L287.9,713.23 L288.7,713.39 L289.5,713.55 L290.3,713.69 L291.1,713.82 L291.9,713.94 L292.7,714.05 L293.5,714.15 L294.3,714.24 L295.1,714.33 L295.9,714.41 L296.7,714.48 L297.5,714.55 L298.3,714.61 L299.1,714.66 L299.89,714.71 L300.69,714.76 L301.49,714.8 L302.29,714.84 L303.09,714.87 L303.89,714.91 L304.69,714.94 L305.49,714.96 L306.29,714.99 L307.09,715.01 L307.89,715.03 L308.69,715.04 L309.49,715.06 L310.29,715.07 L311.09,715.09 L311.89,715.1 L312.69,715.11 L313.49,715.12 L314.28,715.13 L315.08,715.14 L315.88,715.14 L316.68,715.15 L317.48,715.15 L318.28,715.16 L319.08,715.16 L319.88,715.17 L320.68,715.17 L321.48,715.17 L322.28,715.18 L323.08,715.18 L323.88,715.18 L324.68,715.18 L325.48,715.19 L326.28,715.19 L327.08,715.19 L327.88,715.19 L328.67,715.19 L329.47,715.19 L330.27,715.19 L331.07,715.19 L331.87,715.2 L332.67,715.2 L333.47,715.2 L334.27,715.2 L335.07,715.2 L335.87,715.2 L336.67,715.2 L337.47,715.2 L338.27,715.2 L339.07,715.2 L339.87,715.2 L340.67,715.2 L341.47,715.2 L342.26,715.2 L343.06,715.2 L343.86,715.2 L344.66,715.2 L345.46,715.2 L346.26,715.2 L347.06,715.2 L347.86,715.2 L348.66,715.2 L349.46,715.2 L350.26,715.2 L351.06,715.2 L351.86,715.2 L352.66,715.2 L353.46,715.2 L354.26,715.2 L355.06,715.2 L355.86,715.2 L356.65,715.2 L357.45,715.2 L358.25,715.2 L359.05,715.2 L359.85,715.2 L360.65,715.2 L361.45,715.2 L362.25,715.2 L363.05,715.2 L363.85,715.2 L364.65,715.2 L365.45,715.2 L366.25,715.2 L367.05,715.2 L367.85,715.2 L368.65,715.2 L369.45,715.2 L370.25,715.2 L371.04,715.2 L371.84,715.2 L372.64,715.2 L373.44,715.2 L374.24,715.2 L375.04,715.2 L375.84,715.2 L376.64,715.2 L377.44,715.2 L378.24,715.2 L379.04,715.2 L379.84,715.2 L380.64,715.2 L381.44,715.2 L382.24,715.2 L383.04,715.2 L383.84,715.2 L384.63,715.2 L385.43,715.2 L386.23,715.2 L387.03,715.2 L387.83,715.2 L388.63,715.2 L389.43,715.2 L390.23,715.2 L391.03,715.2 L391.83,715.2 L392.63,715.2 L393.43,715.2 L394.23,715.2 L395.03,715.2 L395.83,715.2 L396.63,715.2 L397.43,715.2 L398.23,715.2 L399.02,715.2 L399.82,715.2 L400.62,715.2 L401.42,715.2 L402.22,715.2 L403.02,715.2 L403.82,715.2 L404.62,715.2 L405.42,715.2 L406.22,715.2 L407.02,715.2 L407.82,715.2 L408.62,715.2 L409.42,715.2 L410.22,715.2 L411.02,715.2 L411.82,715.2 L412.61,715.2 L413.41,715.2 L414.21,715.2 L415.01,715.2 L415.81,715.2 L416.61,715.2 L417.41,715.2 L418.21,715.2 L419.01,715.2 L419.81,715.2 L420.61,715.2 L421.41,715.2 L422.21,715.2 L423.01,715.2 L423.81,715.2 L424.61,715.2 L425.41,715.2 L426.21,715.2 L427,715.2 L427.8,715.2 L428.6,715.2 L429.4,715.2 L430.2,715.2 L431,715.2 L431.8,715.2 L432.6,715.2 L433.4,715.2 L434.2,715.2 L435,715.2 L435.8,715.2 L436.6,715.2 L437.4,715.2 L438.2,715.2 L439,715.2 L439.8,715.2 L440.6,715.2 L441.39,715.2 L442.19,715.2 L442.99,715.2 L443.79,715.2 L444.59,715.2 L445.39,715.2 L446.19,715.2 L446.99,715.2 L447.79,715.2 L448.59,715.2 L449.39,715.2 L450.19,715.2 L450.99,715.2 L451.79,715.2 L452.59,715.2 L453.39,715.2 L454.19,715.2 L454.98,715.2 L455.78,715.2 L456.58,715.2 L457.38,715.2 L458.18,715.2 L458.98,715.2 L459.78,715.2 L460.58,715.2 L461.38,715.2 L462.18,715.2 L462.98,715.2 L463.78,715.2 L464.58,715.2 L465.38,715.2 L466.18,715.2 L466.98,715.2 L467.78,715.2 L468.58,715.2 L469.37,715.2 L470.17,715.2 L470.97,715.2 L471.77,715.2 L472.57,715.2 L473.37,715.2 L474.17,715.2 L474.97,715.2 L475.77,715.2 L476.57,715.2 L477.37,715.2 L478.17,715.2 L478.97,715.2 L479.77,715.2 L480.57,715.2 L481.37,715.2 L482.17,715.2 L482.96,715.2 L483.76,715.2 L484.56,715.2 L485.36,715.2 L486.16,715.2 L486.96,715.2 L487.76,715.2 L488.56,715.2 L489.36,715.2 L490.16,715.2 L490.96,715.2 L491.76,715.2 L492.56,715.2 L493.36,715.2 L494.16,715.2 L494.96,715.2 L495.76,715.2 L496.56,715.2 L497.35,715.2 L498.15,715.2 L498.95,715.2 L499.75,715.2 L500.55,715.2 L501.35,715.2 L502.15,715.2 L502.95,715.2 L503.75,715.2 L504.55,715.2 L505.35,715.2 L506.15,715.2 L506.95,715.2 L507.75,715.2 L508.55,715.2 L509.35,715.2 L510.15,715.2 L510.95,715.2 L511.74,715.2 L512.54,715.2 L513.34,715.2 L514.14,715.2 L514.94,715.2 L515.74,715.2 L516.54,715.2 L517.34,715.2 L518.14,715.2" fill="none" stroke="#de201c" stroke-width="2.15"/>
<path d="M39.28,715.2 L40.08,715.2 L40.88,715.2 L41.68,715.2 L42.48,715.2 L43.28,715.2 L44.08,715.2 L44.88,715.2 L45.68,715.2 L46.47,715.2 L47.27,715.2 L48.07,715.2 L48.87,715.2 L49.67,715.2 L50.47,715.2 L51.27,715.2 L52.07,715.2 L52.87,715.2 L53.67,715.2 L54.47,715.2 L55.27,715.2 L56.07,715.2 L56.87,715.2 L57.67,715.2 L58.47,715.2 L59.27,715.2 L60.07,715.2 L60.86,715.2 L61.66,715.2 L62.46,715.2 L63.26,715.2 L64.06,715.2 L64.86,715.2 L65.66,715.2 L66.46,715.2 L67.26,715.2 L68.06,715.2 L68.86,715.2 L69.66,715.2 L70.46,715.2 L71.26,715.2 L72.06,715.2 L72.86,715.2 L73.66,715.2 L74.46,715.2 L75.25,715.2 L76.05,715.2 L76.85,715.2 L77.65,715.2 L78.45,715.2 L79.25,715.2 L80.05,715.2 L80.85,715.2 L81.65,715.2 L82.45,715.2 L83.25,715.2 L84.05,715.2 L84.85,715.2 L85.65,715.2 L86.45,715.2 L87.25,715.2 L88.05,715.2 L88.84,715.2 L89.64,715.2 L90.44,715.2 L91.24,715.2 L92.04,715.2 L92.84,715.2 L93.64,715.2 L94.44,715.2 L95.24,715.2 L96.04,715.2 L96.84,715.2 L97.64,715.2 L98.44,715.2 L99.24,715.2 L100.04,715.2 L100.84,715.2 L101.64,715.2 L102.44,715.2 L103.23,715.2 L104.03,715.2 L104.83,715.2 L105.63,715.2 L106.43,715.2 L107.23,715.2 L108.03,715.2 L108.83,715.2 L109.63,715.2 L110.43,715.2 L111.23,715.2 L112.03,715.2 L112.83,715.2 L113.63,715.2 L114.43,715.2 L115.23,715.2 L116.03,715.2 L116.82,715.2 L117.62,715.2 L118.42,715.2 L119.22,715.2 L120.02,715.2 L120.82,715.2 L121.62,715.2 L122.42,715.2 L123.22,715.2 L124.02,715.2 L124.82,715.2 L125.62,715.2 L126.42,715.2 L127.22,715.2 L128.02,715.2 L128.82,715.2 L129.62,715.2 L130.42,715.2 L131.21,715.2 L132.01,715.2 L132.81,715.2 L133.61,715.2 L134.41,715.2 L135.21,715.2 L136.01,715.2 L136.81,715.2 L137.61,715.2 L138.41,715.2 L139.21,715.2 L140.01,715.2 L140.81,715.2 L141.61,715.2 L142.41,715.2 L143.21,715.2 L144.01,715.2 L144.81,715.2 L145.6,715.2 L146.4,715.2 L147.2,715.2 L148,715.2 L148.8,715.2 L149.6,715.2 L150.4,715.2 L151.2,715.2 L152,715.2 L152.8,715.2 L153.6,715.2 L154.4,715.2 L155.2,715.2 L156,715.2 L156.8,715.2 L157.6,715.2 L158.4,715.2 L159.19,715.2 L159.99,715.2 L160.79,715.2 L161.59,715.2 L162.39,715.2 L163.19,715.2 L163.99,715.2 L164.79,715.2 L165.59,715.2 L166.39,715.2 L167.19,715.2 L167.99,715.2 L168.79,715.2 L169.59,715.2 L170.39,715.2 L171.19,715.2 L171.99,715.2 L172.79,715.2 L173.58,715.2 L174.38,715.2 L175.18,715.2 L175.98,715.2 L176.78,715.2 L177.58,715.2 L178.38,715.2 L179.18,715.2 L179.98,715.2 L180.78,715.2 L181.58,715.2 L182.38,715.2 L183.18,715.2 L183.98,715.2 L184.78,715.2 L185.58,715.2 L186.38,715.2 L187.17,715.2 L187.97,715.2 L188.77,715.2 L189.57,715.2 L190.37,715.2 L191.17,715.2 L191.97,715.2 L192.77,715.2 L193.57,715.2 L194.37,715.2 L195.17,715.2 L195.97,715.2 L196.77,715.2 L197.57,715.2 L198.37,715.2 L199.17,715.2 L199.97,715.2 L200.77,715.2 L201.56,715.2 L202.36,715.2 L203.16,715.2 L203.96,715.2 L204.76,715.2 L205.56,715.2 L206.36,715.2 L207.16,715.2 L207.96,715.2 L208.76,715.2 L209.56,715.2 L210.36,715.2 L211.16,715.2 L211.96,715.2 L212.76,715.2 L213.56,715.2 L214.36,715.2 L215.16,715.2 L215.95,715.2 L216.75,715.2 L217.55,715.2 L218.35,715.2 L219.15,715.2 L219.95,715.2 L220.75,715.2 L221.55,715.2 L222.35,715.2 L223.15,715.2 L223.95,715.2 L224.75,715.2 L225.55,715.2 L226.35,715.2 L227.15,715.2 L227.95,715.2 L228.75,715.2 L229.54,715.2 L230.34,715.2 L231.14,715.2 L231.94,715.2 L232.74,715.2 L233.54,715.2 L234.34,715.2 L235.14,715.2 L235.94,715.2 L236.74,715.2 L237.54,715.2 L238.34,715.2 L239.14,715.2 L239.94,715.2 L240.74,715.2 L241.54,715.2 L242.34,715.2 L243.14,715.2 L243.93,715.2 L244.73,715.2 L245.53,715.2 L246.33,715.2 L247.13,715.2 L247.93,715.2 L248.73,715.2 L249.53,715.2 L250.33,715.2 L251.13,715.2 L251.93,715.2 L252.73,715.2 L253.53,715.2 L254.33,715.2 L255.13,715.2 L255.93,715.2 L256.73,715.2 L257.53,715.2 L258.32,715.2 L259.12,715.2 L259.92,715.2 L260.72,715.2 L261.52,715.2 L262.32,715.2 L263.12,715.2 L263.92,715.2 L264.72,715.2 L265.52,715.2 L266.32,715.2 L267.12,715.2 L267.92,715.2 L268.72,715.2 L269.52,715.2 L270.32,715.2 L271.12,715.2 L271.91,715.2 L272.71,715.2 L273.51,715.2 L274.31,715.2 L275.11,715.2 L275.91,715.2 L276.71,715.2 L277.51,715.2 L278.31,715.2 L279.11,715.2 L279.91,715.2 L280.71,715.2 L281.51,715.2 L282.31,715.2 L283.11,715.2 L283.91,715.2 L284.71,715.2 L285.51,715.2 L286.3,715.2 L287.1,715.2 L287.9,715.2 L288.7,715.2 L289.5,715.2 L290.3,715.2 L291.1,715.2 L291.9,715.2 L292.7,715.2 L293.5,715.2 L294.3,715.2 L295.1,715.2 L295.9,715.2 L296.7,715.2 L297.5,715.2 L298.3,715.2 L299.1,715.2 L299.89,715.2 L300.69,715.2 L301.49,715.2 L302.29,715.2 L303.09,715.2 L303.89,715.2 L304.69,715.2 L305.49,715.2 L306.29,715.2 L307.09,715.2 L307.89,715.2 L308.69,715.2 L309.49,715.2 L310.29,715.2 L311.09,715.2 L311.89,715.2 L312.69,715.2 L313.49,715.2 L314.28,715.2 L315.08,715.2 L315.88,715.2 L316.68,715.2 L317.48,715.2 L318.28,715.2 L319.08,715.2 L319.88,715.2 L320.68,715.2 L321.48,715.2 L322.28,715.2 L323.08,715.2 L323.88,715.2 L324.68,715.2 L325.48,715.2 L326.28,715.2 L327.08,715.2 L327.88,715.2 L328.67,715.2 L329.47,715.2 L330.27,715.2 L331.07,715.2 L331.87,715.2 L332.67,715.2 L333.47,715.2 L334.27,715.2 L335.07,715.2 L335.87,715.2 L336.67,715.2 L337.47,715.2 L338.27,715.2 L339.07,715.2 L339.87,715.2 L340.67,715.2 L341.47,715.2 L342.26,715.2 L343.06,715.2 L343.86,715.19 L344.66,715.19 L345.46,715.19 L346.26,715.19 L347.06,715.19 L347.86,715.19 L348.66,715.19 L349.46,715.18 L350.26,715.18 L351.06,715.18 L351.86,715.18 L352.66,715.17 L353.46,715.17 L354.26,715.17 L355.06,715.16 L355.86,715.16 L356.65,715.15 L357.45,715.14 L358.25,715.14 L359.05,715.13 L359.85,715.12 L360.65,715.11 L361.45,715.1 L362.25,715.08 L363.05,715.07 L363.85,715.05 L364.65,715.04 L365.45,715.02 L366.25,715 L367.05,714.97 L367.85,714.95 L368.65,714.92 L369.45,714.89 L370.25,714.85 L371.04,714.82 L371.84,714.78 L372.64,714.73 L373.44,714.69 L374.24,714.64 L375.04,714.58 L375.84,714.52 L376.64,714.45 L377.44,714.38 L378.24,714.31 L379.04,714.23 L379.84,714.14 L380.64,714.05 L381.44,713.95 L382.24,713.84 L383.04,713.73 L383.84,713.6 L384.63,713.48 L385.43,713.34 L386.23,713.19 L387.03,713.04 L387.83,712.88 L388.63,712.71 L389.43,712.53 L390.23,712.34 L391.03,712.14 L391.83,711.93 L392.63,711.72 L393.43,711.49 L394.23,711.26 L395.03,711.01 L395.83,710.76 L396.63,710.5 L397.43,710.22 L398.23,709.95 L399.02,709.66 L399.82,709.36 L400.62,709.06 L401.42,708.75 L402.22,708.44 L403.02,708.11 L403.82,707.79 L404.62,707.46 L405.42,707.12 L406.22,706.78 L407.02,706.44 L407.82,706.1 L408.62,705.76 L409.42,705.42 L410.22,705.08 L411.02,704.74 L411.82,704.4 L412.61,704.07 L413.41,703.75 L414.21,703.43 L415.01,703.12 L415.81,702.82 L416.61,702.53 L417.41,702.25 L418.21,701.98 L419.01,701.72 L419.81,701.48 L420.61,701.25 L421.41,701.04 L422.21,700.85 L423.01,700.67 L423.81,700.51 L424.61,700.36 L425.41,700.24 L426.21,700.14 L427,700.05 L427.8,699.99 L428.6,699.95 L429.4,699.92 L430.2,699.92 L431,699.94 L431.8,699.98 L432.6,700.04 L433.4,700.12 L434.2,700.22 L435,700.34 L435.8,700.48 L436.6,700.64 L437.4,700.82 L438.2,701.01 L439,701.22 L439.8,701.45 L440.6,701.69 L441.39,701.94 L442.19,702.21 L442.99,702.49 L443.79,702.78 L444.59,703.08 L445.39,703.38 L446.19,703.7 L446.99,704.02 L447.79,704.35 L448.59,704.69 L449.39,705.02 L450.19,705.36 L450.99,705.71 L451.79,706.05 L452.59,706.39 L453.39,706.73 L454.19,707.07 L454.98,707.4 L455.78,707.74 L456.58,708.06 L457.38,708.39 L458.18,708.7 L458.98,709.01 L459.78,709.32 L460.58,709.61 L461.38,709.9 L462.18,710.18 L462.98,710.46 L463.78,710.72 L464.58,710.97 L465.38,711.22 L466.18,711.46 L466.98,711.68 L467.78,711.9 L468.58,712.11 L469.37,712.31 L470.17,712.5 L470.97,712.68 L471.77,712.85 L472.57,713.02 L473.37,713.17 L474.17,713.32 L474.97,713.46 L475.77,713.59 L476.57,713.71 L477.37,713.82 L478.17,713.93 L478.97,714.03 L479.77,714.13 L480.57,714.22 L481.37,714.3 L482.17,714.37 L482.96,714.44 L483.76,714.51 L484.56,714.57 L485.36,714.63 L486.16,714.68 L486.96,714.73 L487.76,714.77 L488.56,714.81 L489.36,714.85 L490.16,714.88 L490.96,714.91 L491.76,714.94 L492.56,714.97 L493.36,714.99 L494.16,715.01 L494.96,715.03 L495.76,715.05 L496.56,715.07 L497.35,715.08 L498.15,715.09 L498.95,715.11 L499.75,715.12 L500.55,715.13 L501.35,715.13 L502.15,715.14 L502.95,715.15 L503.75,715.15 L504.55,715.16 L505.35,715.16 L506.15,715.17 L506.95,715.17 L507.75,715.18 L508.55,715.18 L509.35,715.18 L510.15,715.18 L510.95,715.19 L511.74,715.19 L512.54,715.19 L513.34,715.19 L514.14,715.19 L514.94,715.19 L515.74,715.19 L516.54,715.19 L517.34,715.2 L518.14,715.2" fill="none" stroke="#3d8cd8" stroke-width="2.15"/>
<line x1="39.3" y1="715.2" x2="518.1" y2="715.2" stroke="#3d8cd8" stroke-width="2.15"/>
<g fill="#111"><circle cx="37.97" cy="715.13" r="1.15"/><circle cx="41.7" cy="716.6" r="1.15"/><circle cx="44.3" cy="716.6" r="1.15"/><circle cx="47.8" cy="714" r="1.15"/><circle cx="50" cy="715.5" r="1.15"/><circle cx="52.1" cy="716.6" r="1.15"/><circle cx="54.7" cy="717.5" r="1.15"/><circle cx="57.3" cy="719.2" r="1.15"/><circle cx="59.5" cy="718" r="1.15"/><circle cx="61.6" cy="717.2" r="1.15"/><circle cx="64.2" cy="713.2" r="1.15"/><circle cx="66.8" cy="711.4" r="1.15"/><circle cx="69.4" cy="715.8" r="1.15"/><circle cx="72" cy="708" r="1.15"/><circle cx="74.6" cy="710.2" r="1.15"/><circle cx="77.2" cy="712.3" r="1.15"/><circle cx="78.9" cy="717.8" r="1.15"/><circle cx="81.5" cy="712.3" r="1.15"/><circle cx="84.1" cy="712.8" r="1.15"/><circle cx="86.3" cy="714" r="1.15"/><circle cx="88.5" cy="713.2" r="1.15"/><circle cx="90.2" cy="714.5" r="1.15"/><circle cx="91.9" cy="715.8" r="1.15"/><circle cx="93.6" cy="716" r="1.15"/><circle cx="95.4" cy="716.6" r="1.15"/><circle cx="98" cy="716.6" r="1.15"/><circle cx="99.7" cy="712" r="1.15"/><circle cx="101.4" cy="708" r="1.15"/><circle cx="104" cy="708.5" r="1.15"/><circle cx="106.2" cy="707.5" r="1.15"/><circle cx="108.4" cy="706.8" r="1.15"/><circle cx="111" cy="708" r="1.15"/><circle cx="112.7" cy="707.5" r="1.15"/><circle cx="114.4" cy="707.1" r="1.15"/><circle cx="116.5" cy="706" r="1.15"/><circle cx="118.7" cy="705" r="1.15"/><circle cx="120.5" cy="703.5" r="1.15"/><circle cx="122.2" cy="702.3" r="1.15"/><circle cx="124.92" cy="702" r="1.15"/><circle cx="128.2" cy="702.91" r="1.15"/><circle cx="130.74" cy="696.65" r="1.15"/><circle cx="132.66" cy="690.87" r="1.15"/><circle cx="133.39" cy="691.49" r="1.15"/><circle cx="135.05" cy="689.1" r="1.15"/><circle cx="139.24" cy="678.1" r="1.15"/><circle cx="140.62" cy="671.81" r="1.15"/><circle cx="144.48" cy="659.86" r="1.15"/><circle cx="148.62" cy="663.78" r="1.15"/><circle cx="149.06" cy="651.21" r="1.15"/><circle cx="151.26" cy="642.06" r="1.15"/><circle cx="154.63" cy="636.5" r="1.15"/><circle cx="156.4" cy="612.96" r="1.15"/><circle cx="158.63" cy="597.36" r="1.15"/><circle cx="162.56" cy="592.42" r="1.15"/><circle cx="165.68" cy="563.23" r="1.15"/><circle cx="166.92" cy="552.6" r="1.15"/><circle cx="169.41" cy="539.25" r="1.15"/><circle cx="172.05" cy="526.28" r="1.15"/><circle cx="173.21" cy="507.33" r="1.15"/><circle cx="174.97" cy="512.47" r="1.15"/><circle cx="179.61" cy="483" r="1.15"/><circle cx="180.99" cy="470.95" r="1.15"/><circle cx="183.25" cy="481.16" r="1.15"/><circle cx="184.8" cy="451.7" r="1.15"/><circle cx="187.1" cy="457.8" r="1.15"/><circle cx="189" cy="446" r="1.15"/><circle cx="191.1" cy="435.9" r="1.15"/><circle cx="193.1" cy="416.3" r="1.15"/><circle cx="195.1" cy="444.8" r="1.15"/><circle cx="197.3" cy="438.7" r="1.15"/><circle cx="199.4" cy="435.9" r="1.15"/><circle cx="201.4" cy="424" r="1.15"/><circle cx="203.7" cy="435.9" r="1.15"/><circle cx="205.5" cy="444" r="1.15"/><circle cx="207.6" cy="449.5" r="1.15"/><circle cx="209.9" cy="456.3" r="1.15"/><circle cx="212.23" cy="472.67" r="1.15"/><circle cx="212.63" cy="469.54" r="1.15"/><circle cx="217.92" cy="485.86" r="1.15"/><circle cx="218.66" cy="505.38" r="1.15"/><circle cx="221.68" cy="512.18" r="1.15"/><circle cx="225.35" cy="521.05" r="1.15"/><circle cx="225.44" cy="530.96" r="1.15"/><circle cx="228.81" cy="569.94" r="1.15"/><circle cx="232.82" cy="564.78" r="1.15"/><circle cx="233.55" cy="580.14" r="1.15"/><circle cx="237.08" cy="595.36" r="1.15"/><circle cx="241.05" cy="611.56" r="1.15"/><circle cx="242.34" cy="605.9" r="1.15"/><circle cx="243.89" cy="629.4" r="1.15"/><circle cx="246.01" cy="624.31" r="1.15"/><circle cx="248.98" cy="624.7" r="1.15"/><circle cx="251.6" cy="645.08" r="1.15"/><circle cx="253.67" cy="639.14" r="1.15"/><circle cx="256.85" cy="645.24" r="1.15"/><circle cx="257.96" cy="635" r="1.15"/><circle cx="261.49" cy="624.97" r="1.15"/><circle cx="263.84" cy="618.08" r="1.15"/><circle cx="266.09" cy="636.38" r="1.15"/><circle cx="270.19" cy="623.41" r="1.15"/><circle cx="272.34" cy="608.89" r="1.15"/><circle cx="272.6" cy="596.07" r="1.15"/><circle cx="276.29" cy="596.26" r="1.15"/><circle cx="279.41" cy="596.71" r="1.15"/><circle cx="281.28" cy="582.12" r="1.15"/><circle cx="284.6" cy="577.18" r="1.15"/><circle cx="286.34" cy="571.88" r="1.15"/><circle cx="289.79" cy="569.82" r="1.15"/><circle cx="291.34" cy="556.4" r="1.15"/><circle cx="295.29" cy="552.82" r="1.15"/><circle cx="295.69" cy="552.82" r="1.15"/><circle cx="299.63" cy="552" r="1.15"/><circle cx="303.19" cy="559.56" r="1.15"/><circle cx="304.33" cy="554.25" r="1.15"/><circle cx="306.98" cy="543.52" r="1.15"/><circle cx="308.95" cy="557.39" r="1.15"/><circle cx="312.75" cy="571.16" r="1.15"/><circle cx="312.98" cy="568.8" r="1.15"/><circle cx="313.71" cy="556.3" r="1.15"/><circle cx="320.38" cy="565.08" r="1.15"/><circle cx="321.26" cy="587.56" r="1.15"/><circle cx="324.41" cy="599.62" r="1.15"/><circle cx="326.4" cy="614.85" r="1.15"/><circle cx="330.91" cy="605.91" r="1.15"/><circle cx="332.74" cy="607.5" r="1.15"/><circle cx="333.63" cy="637.15" r="1.15"/><circle cx="336.63" cy="644.61" r="1.15"/><circle cx="337.45" cy="645.85" r="1.15"/><circle cx="342.29" cy="661.4" r="1.15"/><circle cx="343.67" cy="672.76" r="1.15"/><circle cx="343.91" cy="665.68" r="1.15"/><circle cx="349.85" cy="676.32" r="1.15"/><circle cx="352.48" cy="677.89" r="1.15"/><circle cx="354.11" cy="687.66" r="1.15"/><circle cx="356.62" cy="688.38" r="1.15"/><circle cx="358.23" cy="697.6" r="1.15"/><circle cx="361.44" cy="698.05" r="1.15"/><circle cx="364.83" cy="709.72" r="1.15"/><circle cx="366.36" cy="709.41" r="1.15"/><circle cx="366.43" cy="703.8" r="1.15"/><circle cx="370.3" cy="709.87" r="1.15"/><circle cx="376.71" cy="708.62" r="1.15"/><circle cx="376.85" cy="707.5" r="1.15"/><circle cx="379.94" cy="707.1" r="1.15"/><circle cx="380.94" cy="709.07" r="1.15"/><circle cx="384.23" cy="708.75" r="1.15"/><circle cx="384.63" cy="711.95" r="1.15"/><circle cx="388.13" cy="713.46" r="1.15"/><circle cx="390.66" cy="713.26" r="1.15"/><circle cx="393.87" cy="712.1" r="1.15"/><circle cx="396.59" cy="713.42" r="1.15"/><circle cx="398.71" cy="710.98" r="1.15"/><circle cx="400.25" cy="708.75" r="1.15"/><circle cx="403.51" cy="706.71" r="1.15"/><circle cx="406.9" cy="707.63" r="1.15"/><circle cx="407.77" cy="711.93" r="1.15"/><circle cx="411.35" cy="704.7" r="1.15"/><circle cx="414.12" cy="702.67" r="1.15"/><circle cx="417.33" cy="698.68" r="1.15"/><circle cx="419.6" cy="699.62" r="1.15"/><circle cx="422.17" cy="703.33" r="1.15"/><circle cx="425.52" cy="692.68" r="1.15"/><circle cx="426.82" cy="703.11" r="1.15"/><circle cx="428.46" cy="697.13" r="1.15"/><circle cx="431.74" cy="693.2" r="1.15"/><circle cx="432.98" cy="692.36" r="1.15"/><circle cx="436.09" cy="703.62" r="1.15"/><circle cx="438.65" cy="699.83" r="1.15"/><circle cx="444" cy="700.34" r="1.15"/><circle cx="444.25" cy="700.89" r="1.15"/><circle cx="445.99" cy="701.96" r="1.15"/><circle cx="447.41" cy="704.18" r="1.15"/><circle cx="449.68" cy="705.35" r="1.15"/><circle cx="452.59" cy="711.86" r="1.15"/><circle cx="457.67" cy="708.56" r="1.15"/><circle cx="460.94" cy="709.57" r="1.15"/><circle cx="461.21" cy="711.32" r="1.15"/><circle cx="463.98" cy="712.15" r="1.15"/><circle cx="465.54" cy="709.81" r="1.15"/><circle cx="469.13" cy="709.97" r="1.15"/><circle cx="471.28" cy="711.97" r="1.15"/><circle cx="475.5" cy="712.47" r="1.15"/><circle cx="476.05" cy="713.46" r="1.15"/><circle cx="479.44" cy="715.14" r="1.15"/><circle cx="481.15" cy="714.7" r="1.15"/><circle cx="483.54" cy="715.69" r="1.15"/><circle cx="486.61" cy="713.81" r="1.15"/><circle cx="488.68" cy="714.8" r="1.15"/><circle cx="491.5" cy="713.65" r="1.15"/><circle cx="493.23" cy="717.9" r="1.15"/><circle cx="495.99" cy="713.16" r="1.15"/><circle cx="499.53" cy="716.72" r="1.15"/><circle cx="502.07" cy="716.68" r="1.15"/><circle cx="502.24" cy="715.57" r="1.15"/><circle cx="506.58" cy="716.33" r="1.15"/><circle cx="507.99" cy="714.58" r="1.15"/><circle cx="511.08" cy="716.36" r="1.15"/><circle cx="514.54" cy="717.36" r="1.15"/><circle cx="517.22" cy="716.9" r="1.15"/></g>
</g>
<line x1="200.51" y1="534.6" x2="298.61" y2="534.6" stroke="#111" stroke-width="1.4"/>
<path d="M197.51,534.6 l9,-2.6 l0,5.2 Z M301.61,534.6 l-9,-2.6 l0,5.2 Z" fill="#111"/>
<text x="231.1" y="531.3" font-size="14" letter-spacing="0.02">2.5 eV</text>
<rect x="39.3" y="379" width="478.8" height="351.8" fill="none" stroke="#2e2e2e" stroke-width="1.5"/>
<line x1="518.1" y1="730.8" x2="518.1" y2="733.8" stroke="#2e2e2e" stroke-width="1.6"/>
<path d="M476.5,730.8 v6 M476.5,379 v6 M434.86,730.8 v3 M434.86,379 v3 M393.22,730.8 v6 M393.22,379 v6 M351.58,730.8 v3 M351.58,379 v3 M309.94,730.8 v6 M309.94,379 v6 M268.3,730.8 v3 M268.3,379 v3 M226.66,730.8 v6 M226.66,379 v6 M185.02,730.8 v3 M185.02,379 v1.2 M143.38,730.8 v6 M143.38,379 v6 M101.74,730.8 v3 M101.74,379 v1.2 M60.1,730.8 v6 M60.1,379 v1.2 M39.3,715.2 h-6 M518.1,715.2 h-6 M39.3,696.1 h-3 M518.1,696.1 h-3 M39.3,677 h-3 M518.1,677 h-3 M39.3,657.9 h-3 M518.1,657.9 h-3 M39.3,638.8 h-6 M518.1,638.8 h-6 M39.3,619.7 h-3 M518.1,619.7 h-3 M39.3,600.6 h-3 M518.1,600.6 h-3 M39.3,581.5 h-3 M518.1,581.5 h-3 M39.3,562.4 h-6 M518.1,562.4 h-6 M39.3,543.3 h-3 M518.1,543.3 h-3 M39.3,524.2 h-3 M518.1,524.2 h-3 M39.3,505.1 h-3 M518.1,505.1 h-3 M39.3,486 h-6 M518.1,486 h-6 M39.3,466.9 h-3 M518.1,466.9 h-3 M39.3,447.8 h-3 M518.1,447.8 h-3 M39.3,428.7 h-3 M518.1,428.7 h-3 M39.3,409.6 h-6 M518.1,409.6 h-6 M39.3,390.5 h-3 M518.1,390.5 h-3" stroke="#2e2e2e" stroke-width="1.4" fill="none"/>
<line x1="33.3" y1="715.2" x2="40.3" y2="715.2" stroke="#2b5f96" stroke-width="2"/>
<text x="476.5" y="750.8" font-size="13.2" text-anchor="middle">72</text>
<text x="393.22" y="750.8" font-size="13.2" text-anchor="middle">74</text>
<text x="309.94" y="750.8" font-size="13.2" text-anchor="middle">76</text>
<text x="226.66" y="750.8" font-size="13.2" text-anchor="middle">78</text>
<text x="143.38" y="750.8" font-size="13.2" text-anchor="middle">80</text>
<text x="60.1" y="750.8" font-size="13.2" text-anchor="middle">82</text>
<text x="29.6" y="719.2" font-size="13.2" text-anchor="end">0</text>
<text x="29.6" y="642.8" font-size="13.2" text-anchor="end">1</text>
<text x="29.6" y="566.4" font-size="13.2" text-anchor="end">2</text>
<text x="29.6" y="490" font-size="13.2" text-anchor="end">3</text>
<text x="29.6" y="413.6" font-size="13.2" text-anchor="end">4</text>
<line x1="387.5" y1="395.25" x2="423.6" y2="395.25" stroke="#7a7a7a" stroke-width="1"/>
<circle cx="405.6" cy="395.25" r="1.6" fill="#111"/>
<text x="428.52" y="400.6" font-size="16" letter-spacing="0.19">Experiment</text>
<line x1="387.5" y1="415.25" x2="424.4" y2="415.25" stroke="#f07a30" stroke-width="2.3"/>
<text x="428.42" y="420.5" font-size="16" letter-spacing="0.14">Envolope</text>
<rect x="387.5" y="426.8" width="36.1" height="17.4" fill="url(#hr)" stroke="#7a7a7a" stroke-width="1"/>
<text x="428.92" y="441" font-size="16">Al-F</text>
<rect x="387.5" y="446.8" width="36.1" height="17.4" fill="url(#hg)" stroke="#7a7a7a" stroke-width="1"/>
<text x="428.92" y="461" font-size="16">Al-O</text>
<rect x="387.5" y="467.1" width="36.1" height="17.4" fill="url(#hb)" stroke="#7a7a7a" stroke-width="1"/>
<text x="428.92" y="481.3" font-size="16">Al-Al</text>
<text x="0.29" y="22.6" font-size="25.2" letter-spacing="0.74" style="stroke:none">(a)</text>
<text x="0.69" y="396.2" font-size="25.2" letter-spacing="0.69" style="stroke:none">(b)</text>
<text x="50.65" y="19.4" font-size="16.5" letter-spacing="0.7">tALD AlF</text>
<text x="120.96" y="23.8" font-size="11">3</text>
<text x="132.26" y="19.4" font-size="16.5" letter-spacing="0.7">- Al 2p</text>
<text x="49.28" y="395.8" font-size="16.5" letter-spacing="0.79">PEALD AlF</text>
<text x="139.46" y="400.6" font-size="11">3</text>
<text x="150.56" y="395.8" font-size="16.5" letter-spacing="0.55">- Al 2p</text>
<text transform="translate(16.1,228.36) rotate(-90)" font-size="16.2" letter-spacing="0.01">Intensity (a.u.)</text>
<text transform="translate(14.6,609.66) rotate(-90)" font-size="16.2" letter-spacing="0.02">Intensity (a.u.)</text>
<text x="205.7" y="777.2" font-size="16.2" letter-spacing="0.05">Binding Energy (eV)</text>
</svg>
</body></html>
